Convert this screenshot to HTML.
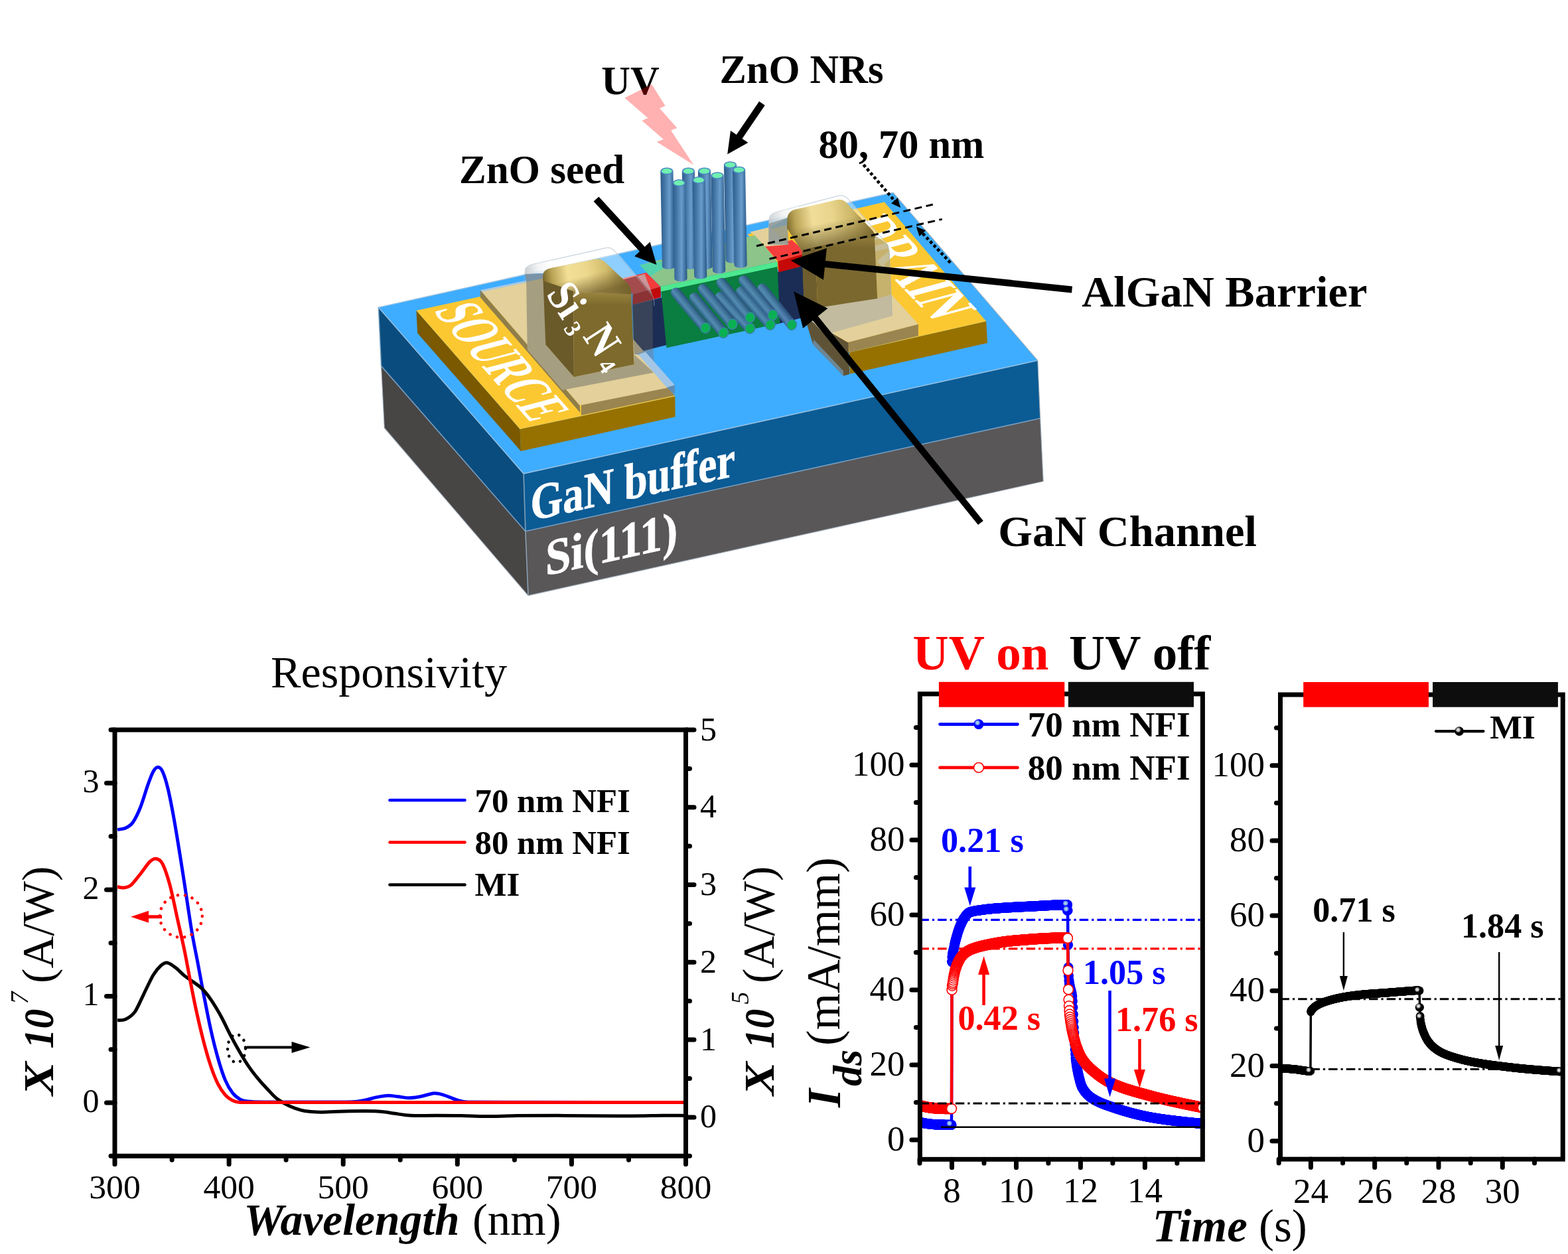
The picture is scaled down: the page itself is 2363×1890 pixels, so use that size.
<!DOCTYPE html>
<html lang="en"><head><meta charset="utf-8"><title>ZnO NR gated AlGaN/GaN nano-fin UV photodetector</title>
<style>
html,body{margin:0;padding:0;background:#fff;}
body{width:2363px;height:1890px;overflow:hidden;}
svg{display:block;font-family:"Liberation Serif","Times New Roman",serif;}
</style></head>
<body>
<svg width="2363" height="1890" viewBox="0 0 2363 1890">
<rect width="2363" height="1890" fill="#fff"/>
<g id="device">
<polygon points="574.5,551.6 791.9,800.7 796,897.6 579.3,645" fill="#484545" />
<polygon points="791.9,800.7 1567.6,630.5 1572.2,725.5 796,897.6" fill="#595758" />
<polygon points="570.3,463.2 789.1,713.9 791.9,800.7 574.5,551.6" fill="#0a4c7d" />
<polygon points="789.1,713.9 1563.8,543.3 1567.6,630.5 791.9,800.7" fill="#0b5b95" />
<polygon points="570.3,463.2 1345.8,290.2 1563.8,543.3 789.1,713.9" fill="#3eadff" />
<polyline points="1345.8,290.2 570.3,463.2 789.1,713.9 1563.8,543.3" fill="none" stroke="#9ec3e0" stroke-width="1.6" stroke-linejoin="round" stroke-opacity="0.85"/>
<polyline points="570.3,463.2 574.5,551.6 791.9,800.7 1567.6,630.5" fill="none" stroke="#7fa6c8" stroke-width="1.6" stroke-linejoin="round" stroke-opacity="0.85"/>
<polyline points="789.1,713.9 791.9,800.7 796,897.6" fill="none" stroke="#8fa9c0" stroke-width="1.6" stroke-linejoin="round" stroke-opacity="0.85"/>
<polyline points="1345.8,290.2 1563.8,543.3 1567.6,630.5 1572.2,725.5 796,897.6 579.3,645 574.5,551.6" fill="none" stroke="#9aa8b4" stroke-width="1.2" stroke-linejoin="round" stroke-opacity="0.85"/>
<polygon points="627.4,468 783.6,646.7 785,680.1 629.1,502.1" fill="#7a5900" />
<polygon points="783.6,646.7 1017.3,597.3 1017.6,628.2 785,680.1" fill="#967100" />
<polygon points="627.4,468 860,417.5 1017.3,597.3 783.6,646.7" fill="#fbc832" />
<polygon points="1279.9,531 1486.2,484.3 1488,516.9 1280.8,563.6" fill="#967100" />
<polygon points="1332.8,304.4 1486.2,484.3 1279.9,531 1126.5,353.1" fill="#fbc832" />
<text transform="matrix(0.4290,0.4476,-0.9844,0.2673,1268,338)" font-size="100" fill="#fff" font-weight="bold" >DRAIN</text>
<polygon points="953.3,459.3 1003.9,446.9 1007.7,519.3 955.7,532.3" fill="#1b2d55" />
<polygon points="953.8,443.5 995.6,432 996,448.2 953.3,459.3" fill="#c20a0a" />
<polygon points="930.6,421.3 974.2,410.7 995.6,432 953.8,443.5" fill="#f23c3c" />
<polygon points="1169.7,410.5 1209.7,400.8 1212.9,478.1 1169.7,488.7" fill="#1b2d55" />
<polygon points="1172.3,393.4 1209.4,382.9 1209.7,400.8 1173.2,410.5" fill="#c60808" />
<polygon points="1152.9,371.4 1193.5,361.7 1209.4,375.8 1209.4,382.9 1172.3,393.4" fill="#f53d3d" />
<polygon points="995.6,432 1171.4,394.4 1175.2,487.3 1004.5,524.3" fill="#0a7d40" />
<polygon points="964,399.5 1139.4,354.1 1171.4,394.4 995.6,432" fill="#8cc48a" />
<polygon points="964,399.5 996.5,394 1001.2,403.2 979.8,416.2" fill="#3fd8b8" fill-opacity="0.75"/>
<polygon points="995.6,432 1171.4,394.4 1171.7,401.9 995.9,439.5" fill="#4de890" />
<linearGradient id="hr0" gradientUnits="userSpaceOnUse" x1="1142.7" y1="439.7" x2="1154.8" y2="429.9"><stop offset="0" stop-color="#2f5f8c"/><stop offset="0.35" stop-color="#5a8cbb"/><stop offset="0.6" stop-color="#4a7aa8"/><stop offset="1" stop-color="#28507a"/></linearGradient>
<path d="M1142.7,439.7 L1187.2,494.5 A7.8,7.8 0 0 0 1199.3,484.6 L1154.8,429.9 A7.8,7.8 0 0 0 1142.7,439.7 Z" fill="url(#hr0)" fill-opacity="0.92"/>
<ellipse cx="1193.3" cy="489.6" rx="7.2" ry="7.8" fill="#0bb054" stroke="#3f7fae" stroke-width="1.2" transform="rotate(20 1193.3 489.6)"/>
<linearGradient id="hr1" gradientUnits="userSpaceOnUse" x1="1111.3" y1="444.6" x2="1123.1" y2="434.3"><stop offset="0" stop-color="#2f5f8c"/><stop offset="0.35" stop-color="#5a8cbb"/><stop offset="0.6" stop-color="#4a7aa8"/><stop offset="1" stop-color="#28507a"/></linearGradient>
<path d="M1111.3,444.6 L1154.9,494.7 A7.8,7.8 0 0 0 1166.7,484.4 L1123.1,434.3 A7.8,7.8 0 0 0 1111.3,444.6 Z" fill="url(#hr1)" fill-opacity="0.92"/>
<ellipse cx="1160.8" cy="489.6" rx="7.2" ry="7.8" fill="#0bb054" stroke="#3f7fae" stroke-width="1.2" transform="rotate(20 1160.8 489.6)"/>
<linearGradient id="hr2" gradientUnits="userSpaceOnUse" x1="1114.9" y1="427.8" x2="1126.9" y2="417.7"><stop offset="0" stop-color="#2f5f8c"/><stop offset="0.35" stop-color="#5a8cbb"/><stop offset="0.6" stop-color="#4a7aa8"/><stop offset="1" stop-color="#28507a"/></linearGradient>
<path d="M1114.9,427.8 L1158.5,479.7 A7.8,7.8 0 0 0 1170.5,469.7 L1126.9,417.7 A7.8,7.8 0 0 0 1114.9,427.8 Z" fill="url(#hr2)" fill-opacity="0.92"/>
<ellipse cx="1164.5" cy="474.7" rx="7.2" ry="7.8" fill="#0bb054" stroke="#3f7fae" stroke-width="1.2" transform="rotate(20 1164.5 474.7)"/>
<linearGradient id="hr3" gradientUnits="userSpaceOnUse" x1="1079.9" y1="452.2" x2="1091.3" y2="441.6"><stop offset="0" stop-color="#2f5f8c"/><stop offset="0.35" stop-color="#5a8cbb"/><stop offset="0.6" stop-color="#4a7aa8"/><stop offset="1" stop-color="#28507a"/></linearGradient>
<path d="M1079.9,452.2 L1124.4,500.4 A7.8,7.8 0 0 0 1135.9,489.8 L1091.3,441.6 A7.8,7.8 0 0 0 1079.9,452.2 Z" fill="url(#hr3)" fill-opacity="0.92"/>
<ellipse cx="1130.2" cy="495.1" rx="7.2" ry="7.8" fill="#0bb054" stroke="#3f7fae" stroke-width="1.2" transform="rotate(20 1130.2 495.1)"/>
<linearGradient id="hr4" gradientUnits="userSpaceOnUse" x1="1081.4" y1="431.4" x2="1093.5" y2="421.5"><stop offset="0" stop-color="#2f5f8c"/><stop offset="0.35" stop-color="#5a8cbb"/><stop offset="0.6" stop-color="#4a7aa8"/><stop offset="1" stop-color="#28507a"/></linearGradient>
<path d="M1081.4,431.4 L1124.1,483.4 A7.8,7.8 0 0 0 1136.2,473.5 L1093.5,421.5 A7.8,7.8 0 0 0 1081.4,431.4 Z" fill="url(#hr4)" fill-opacity="0.92"/>
<ellipse cx="1130.2" cy="478.4" rx="7.2" ry="7.8" fill="#0bb054" stroke="#3f7fae" stroke-width="1.2" transform="rotate(20 1130.2 478.4)"/>
<linearGradient id="hr5" gradientUnits="userSpaceOnUse" x1="1053.6" y1="440.7" x2="1065.6" y2="430.7"><stop offset="0" stop-color="#2f5f8c"/><stop offset="0.35" stop-color="#5a8cbb"/><stop offset="0.6" stop-color="#4a7aa8"/><stop offset="1" stop-color="#28507a"/></linearGradient>
<path d="M1053.6,440.7 L1097.8,493.6 A7.8,7.8 0 0 0 1109.8,483.6 L1065.6,430.7 A7.8,7.8 0 0 0 1053.6,440.7 Z" fill="url(#hr5)" fill-opacity="0.92"/>
<ellipse cx="1103.8" cy="488.6" rx="7.2" ry="7.8" fill="#0bb054" stroke="#3f7fae" stroke-width="1.2" transform="rotate(20 1103.8 488.6)"/>
<linearGradient id="hr6" gradientUnits="userSpaceOnUse" x1="1040.6" y1="453.7" x2="1052.7" y2="443.8"><stop offset="0" stop-color="#2f5f8c"/><stop offset="0.35" stop-color="#5a8cbb"/><stop offset="0.6" stop-color="#4a7aa8"/><stop offset="1" stop-color="#28507a"/></linearGradient>
<path d="M1040.6,453.7 L1084.2,506.6 A7.8,7.8 0 0 0 1096.3,496.7 L1052.7,443.8 A7.8,7.8 0 0 0 1040.6,453.7 Z" fill="url(#hr6)" fill-opacity="0.92"/>
<ellipse cx="1090.3" cy="501.6" rx="7.2" ry="7.8" fill="#0bb054" stroke="#3f7fae" stroke-width="1.2" transform="rotate(20 1090.3 501.6)"/>
<linearGradient id="hr7" gradientUnits="userSpaceOnUse" x1="1012.8" y1="446.3" x2="1024.8" y2="436.3"><stop offset="0" stop-color="#2f5f8c"/><stop offset="0.35" stop-color="#5a8cbb"/><stop offset="0.6" stop-color="#4a7aa8"/><stop offset="1" stop-color="#28507a"/></linearGradient>
<path d="M1012.8,446.3 L1057,499.2 A7.8,7.8 0 0 0 1069,489.2 L1024.8,436.3 A7.8,7.8 0 0 0 1012.8,446.3 Z" fill="url(#hr7)" fill-opacity="0.92"/>
<ellipse cx="1063" cy="494.2" rx="7.2" ry="7.8" fill="#0bb054" stroke="#3f7fae" stroke-width="1.2" transform="rotate(20 1063 494.2)"/>
<linearGradient id="vr" x1="0" y1="0" x2="1" y2="0"><stop offset="0" stop-color="#2d5c8a"/><stop offset="0.3" stop-color="#4678a8"/><stop offset="0.62" stop-color="#6a9ccc"/><stop offset="0.85" stop-color="#3f72a2"/><stop offset="1" stop-color="#2a5682"/></linearGradient>
<path d="M1090.9,248.6 L1093.5,392.1 A9.6,4.3 0 0 0 1112.7,392.1 L1110.1,248.6 Z" fill="url(#vr)"/>
<ellipse cx="1100.5" cy="248.6" rx="9.6" ry="5.4" fill="#4a88bf"/>
<ellipse cx="1100.5" cy="248.6" rx="7.8" ry="3.9" fill="#70f0b0"/>
<path d="M995.3,257.9 L997.9,401.4 A9.6,4.3 0 0 0 1017.1,401.4 L1014.5,257.9 Z" fill="url(#vr)"/>
<ellipse cx="1004.9" cy="257.9" rx="9.6" ry="5.4" fill="#4a88bf"/>
<ellipse cx="1004.9" cy="257.9" rx="7.8" ry="3.9" fill="#70f0b0"/>
<path d="M1027.8,257.9 L1030.4,401.4 A9.6,4.3 0 0 0 1049.6,401.4 L1047,257.9 Z" fill="url(#vr)"/>
<ellipse cx="1037.4" cy="257.9" rx="9.6" ry="5.4" fill="#4a88bf"/>
<ellipse cx="1037.4" cy="257.9" rx="7.8" ry="3.9" fill="#70f0b0"/>
<path d="M1051.9,257.9 L1054.5,401.4 A9.6,4.3 0 0 0 1073.7,401.4 L1071.1,257.9 Z" fill="url(#vr)"/>
<ellipse cx="1061.5" cy="257.9" rx="9.6" ry="5.4" fill="#4a88bf"/>
<ellipse cx="1061.5" cy="257.9" rx="7.8" ry="3.9" fill="#70f0b0"/>
<path d="M1103.9,256.1 L1106.5,399.5 A9.6,4.3 0 0 0 1125.7,399.5 L1123.1,256.1 Z" fill="url(#vr)"/>
<ellipse cx="1113.5" cy="256.1" rx="9.6" ry="5.4" fill="#4a88bf"/>
<ellipse cx="1113.5" cy="256.1" rx="7.8" ry="3.9" fill="#70f0b0"/>
<path d="M1071.4,264.6 L1074,407.9 A9.6,4.3 0 0 0 1093.2,407.9 L1090.6,264.6 Z" fill="url(#vr)"/>
<ellipse cx="1081" cy="264.6" rx="9.6" ry="5.4" fill="#4a88bf"/>
<ellipse cx="1081" cy="264.6" rx="7.8" ry="3.9" fill="#70f0b0"/>
<path d="M1043.5,271.5 L1046.1,416.2 A9.6,4.3 0 0 0 1065.3,416.2 L1062.7,271.5 Z" fill="url(#vr)"/>
<ellipse cx="1053.1" cy="271.5" rx="9.6" ry="5.4" fill="#4a88bf"/>
<ellipse cx="1053.1" cy="271.5" rx="7.8" ry="3.9" fill="#70f0b0"/>
<path d="M1013.8,275.7 L1016.4,420 A9.6,4.3 0 0 0 1035.6,420 L1033,275.7 Z" fill="url(#vr)"/>
<ellipse cx="1023.4" cy="275.7" rx="9.6" ry="5.4" fill="#4a88bf"/>
<ellipse cx="1023.4" cy="275.7" rx="7.8" ry="3.9" fill="#70f0b0"/>
<linearGradient id="gtop1" gradientUnits="userSpaceOnUse" x1="819.9" y1="426.3" x2="950.9" y2="407.3"><stop offset="0" stop-color="#7d692b"/><stop offset="0.1" stop-color="#b8a254"/><stop offset="0.28" stop-color="#f3e097"/><stop offset="0.5" stop-color="#ecd88d"/><stop offset="0.72" stop-color="#d2bc6c"/><stop offset="0.9" stop-color="#a38d44"/><stop offset="1" stop-color="#7f6b2d"/></linearGradient>
<linearGradient id="gfr1" gradientUnits="userSpaceOnUse" x1="905.1" y1="435.7" x2="905.1" y2="557.2"><stop offset="0" stop-color="#a08a44"/><stop offset="0.2" stop-color="#7d6a2c"/><stop offset="1" stop-color="#7d6a2c"/></linearGradient>
<linearGradient id="gsh1" gradientUnits="userSpaceOnUse" x1="793.1" y1="407.3" x2="829.4" y2="397.9"><stop offset="0" stop-color="#c9ced2"/><stop offset="0.5" stop-color="#f2f3f4"/><stop offset="1" stop-color="#ffffff"/></linearGradient>
<polygon points="723.7,437.3 866.5,407.3 869.6,412.1 729.2,442.4" fill="#a7c8e4" />
<polygon points="875.8,610.4 1004.8,582.1 1016.8,596 875.8,625.9" fill="#9a8550" />
<polygon points="726,439.7 866.5,410.5 1016.3,582.5 873.6,610.9" fill="#e3d09a" />
<polygon points="723.7,437.3 873.6,610.9 874.3,621.9 724,448.4" fill="#8f7e49" />
<polygon points="793.1,422.3 826.2,415.2 822.3,519.4 864.9,568.3 955.6,549.3 955.6,534.3 985.3,561.6 847.5,588 794.7,527.2" fill="#a69e80" />
<polygon points="931.9,423.1 971.4,412.9 983.2,443.6 984,529.6 955.6,534.3 950.9,448.4" fill="#55595e" fill-opacity="0.5"/>
<polygon points="955.6,533.6 984.3,526.1 985.3,549.3 972.8,530.6 962.1,534.8" fill="#7f97ab" />
<polygon points="972.8,530.6 984.3,526.1 985.6,545.4" fill="#5b94c8" />
<polygon points="962.1,534.8 972.8,530.6 1016.8,580.3 1004.8,583.9" fill="#a3c6e6" />
<polygon points="1004.8,583.9 1016.8,580.3 1016.8,594.3" fill="#5f8cb4" />
<polygon points="802.6,399.8 918.5,373.6 927.2,377 983.2,443.6 971.4,412.9 933.5,423.1 903.5,390 826.2,405" fill="#ffffff" fill-opacity="0.42"/>
<path d="M791,426.3L791.1,412Q791.2,401 801.9,398.6L912.1,373.8Q920.9,371.8 926.7,378.7L980.4,442.2Q985.6,448.4 985.7,454.7L985.9,461" fill="none" stroke="#9fb0bd" stroke-width="1.2" stroke-opacity="0.55"/>
<path d="M791,413.6L791.1,407.5Q791.2,401.3 801.9,399L832.5,392.3L826.2,405L818.3,412.1Z" fill="url(#gsh1)" fill-opacity="0.9"/>
<polygon points="791,413.3 818.3,412.1 819.9,419.2 793.1,424.7" fill="#7b93a6" />
<polygon points="818.3,416.8 864.1,435.7 864.9,568.3 822.3,519.4" fill="#6b5a29" />
<polygon points="864.1,435.7 950.9,438.9 955.6,549.3 864.9,568.3" fill="url(#gfr1)" />
<path d="M818,423.1L818.3,414.8Q818.6,406.5 830.4,404.1L896.3,390.7Q905.1,388.9 911.7,395.1L944,425.6Q950.6,431.8 950.9,437.7L951.2,443.6L871.7,440Q865.7,439.7 860,437.6L842,431Z" fill="url(#gtop1)"/>
<linearGradient id="gsd1" gradientUnits="userSpaceOnUse" x1="881.4" y1="391.6" x2="894.1" y2="442"><stop offset="0" stop-color="#6b5a29" stop-opacity="0"/><stop offset="0.45" stop-color="#6b5a29" stop-opacity="0"/><stop offset="1" stop-color="#6b5a29" stop-opacity="0.75"/></linearGradient>
<path d="M818,423.1L818.3,414.8Q818.6,406.5 830.4,404.1L896.3,390.7Q905.1,388.9 911.7,395.1L944,425.6Q950.6,431.8 950.9,437.7L951.2,443.6L871.7,440Q865.7,439.7 860,437.6L842,431Z" fill="url(#gsd1)"/>
<linearGradient id="gtop2" gradientUnits="userSpaceOnUse" x1="1186.4" y1="347.6" x2="1318.7" y2="328.2"><stop offset="0" stop-color="#7d692b"/><stop offset="0.1" stop-color="#b8a254"/><stop offset="0.3" stop-color="#f0dd98"/><stop offset="0.52" stop-color="#e9d58c"/><stop offset="0.75" stop-color="#cdb768"/><stop offset="0.92" stop-color="#a18b43"/><stop offset="1" stop-color="#7f6b2d"/></linearGradient>
<linearGradient id="gfr2" gradientUnits="userSpaceOnUse" x1="1271.1" y1="358.2" x2="1271.1" y2="456.9"><stop offset="0" stop-color="#8f7a38"/><stop offset="0.16" stop-color="#7a682f"/><stop offset="1" stop-color="#7a682f"/></linearGradient>
<linearGradient id="gsh2" gradientUnits="userSpaceOnUse" x1="1159.1" y1="328.2" x2="1200.5" y2="315.8"><stop offset="0" stop-color="#c9ced2"/><stop offset="0.5" stop-color="#f2f3f4"/><stop offset="1" stop-color="#ffffff"/></linearGradient>
<polygon points="1130,349.7 1160,342.3 1188.2,368.7 1152.9,371.4 1137.1,354.6" fill="#e3d09a" />
<polygon points="1226.1,486.5 1343.4,443.7 1383.9,488.7 1278.1,516" fill="#e3d09a" />
<polygon points="1278.1,516 1383.9,488.7 1383.9,506.3 1279.9,531" fill="#9a8550" />
<polygon points="1212.5,477.2 1226.1,486.5 1278.5,516.5 1280.2,564.1 1271.1,566.6 1225.2,519" fill="#5f5337" />
<polygon points="1225.2,519 1271.1,566.6 1271.1,559.2 1226.1,511.6" fill="#6f93ad" fill-opacity="0.8"/>
<polygon points="1213.8,478.1 1232.3,463.1 1322.2,449 1343.4,443.7 1344.2,476.3 1242.9,504.5 1226.1,486.5" fill="#c3bb9f" />
<polygon points="1316.9,352.9 1338.1,368.7 1340.7,382.9 1344.2,476.3 1343.4,443.7 1322.2,449.9" fill="#b9ac7c" fill-opacity="0.8"/>
<polygon points="1165.3,321.1 1269.3,293.8 1278.1,298.2 1338.1,368.7 1316.9,352.9 1267.5,300.3 1200.5,314.1 1186.4,328.2" fill="#ffffff" fill-opacity="0.42"/>
<path d="M1158.6,368.7L1158.7,333.5Q1158.7,322.5 1169.4,319.8L1263.2,295.2Q1272,292.9 1277.8,299.7L1334.6,365.3Q1339.8,371.4 1340.2,379.4L1344.2,476.3" fill="none" stroke="#9fb0bd" stroke-width="1.2" stroke-opacity="0.55"/>
<path d="M1158.6,344.1L1158.7,333.3Q1158.7,322.5 1169.4,319.8L1204.1,310.9L1200.5,315L1186.4,328.2Z" fill="url(#gsh2)" fill-opacity="0.9"/>
<polygon points="1158.6,337 1186.4,328.2 1188.2,368.7 1158.6,368.7" fill="#8f9a98" fill-opacity="0.85"/>
<polygon points="1208.5,376.7 1228.7,367.9 1232.3,464 1212.2,478.4" fill="#6e5e2e" />
<polygon points="1228.7,367.9 1317.8,354.6 1322.2,449.9 1232.3,464" fill="url(#gfr2)" />
<path d="M1186.1,344.1L1186.4,330.5Q1186.8,318.5 1198.5,315.7L1260.5,301.2Q1269.3,299.1 1275.5,305.6L1312.2,344.6Q1318.3,351.1 1318.5,354.6L1318.7,358.2L1236.5,369.7Q1230.5,370.5 1224.9,372.5L1208.5,378.4Z" fill="url(#gtop2)"/>
<linearGradient id="gsd2" gradientUnits="userSpaceOnUse" x1="1244.6" y1="305.3" x2="1257" y2="368.7"><stop offset="0" stop-color="#6e5e2e" stop-opacity="0"/><stop offset="0.45" stop-color="#6e5e2e" stop-opacity="0"/><stop offset="1" stop-color="#6e5e2e" stop-opacity="0.75"/></linearGradient>
<path d="M1186.1,344.1L1186.4,330.5Q1186.8,318.5 1198.5,315.7L1260.5,301.2Q1269.3,299.1 1275.5,305.6L1312.2,344.6Q1318.3,351.1 1318.5,354.6L1318.7,358.2L1236.5,369.7Q1230.5,370.5 1224.9,372.5L1208.5,378.4Z" fill="url(#gsd2)"/>
<text transform="matrix(0.4442,0.5082,-1.1602,0.3066,652,468)" font-size="80" fill="#fff" font-weight="bold" >SOURCE</text>
<text transform="matrix(0.4629,0.7129,-0.8387,0.5446,822,443.5)" font-size="68" fill="#fff" font-weight="bold" >Si</text>
<text transform="matrix(0.5174,0.7967,-0.8387,0.5446,848.5,495)" font-size="36" fill="#fff" font-weight="bold" >3</text>
<text transform="matrix(0.4629,0.7129,-0.8387,0.5446,877.5,507)" font-size="68" fill="#fff" font-weight="bold" >N</text>
<text transform="matrix(0.5174,0.7967,-0.8387,0.5446,900,551)" font-size="36" fill="#fff" font-weight="bold" >4</text>
<text transform="translate(799.5,785) skewY(-12.4) scale(0.815,1)" font-size="77" font-weight="bold" fill="#fff" stroke="#fff" stroke-width="0.8">GaN buffer</text>
<text transform="translate(822,867.5) skewY(-12.4) scale(0.895,1)" font-size="77" font-weight="bold" fill="#fff" stroke="#fff" stroke-width="0.8">Si(111)</text>
<line x1="1140" y1="370.8" x2="1405.8" y2="308.2" stroke="#000" stroke-width="3" stroke-dasharray="11 6.5"/>
<line x1="1159.5" y1="390.3" x2="1419.7" y2="330.4" stroke="#000" stroke-width="3" stroke-dasharray="11 6.5"/>
<line x1="1301.4" y1="248.3" x2="1349.2" y2="303.8" stroke="#000" stroke-width="4.6" stroke-dasharray="4.4 3.6"/>
<polygon points="1346.9,301.9 1347.6,302.6 1343,306.6 1357.1,312.9 1352.9,298.1 1348.3,302 1347.7,301.2" fill="#000" />
<line x1="1432.2" y1="395.8" x2="1389" y2="350.3" stroke="#000" stroke-width="4.6" stroke-dasharray="4.4 3.6"/>
<polygon points="1391.4,352.1 1390.7,351.4 1395.1,347.3 1380.7,341.6 1385.6,356.2 1390,352.1 1390.7,352.8" fill="#000" />
<polygon points="1144.1,152.8 1109.9,203.1 1101,197 1096.2,232.5 1127.4,215 1118.5,209 1152.7,158.8" fill="#000" />
<polygon points="894.6,303.6 964,379 956.1,386.3 989.5,399 979.6,364.6 971.7,371.9 902.4,296.4" fill="#000" />
<polygon points="1616,431.4 1243.9,393 1245.9,374.1 1191.7,392.6 1241,421.8 1242.9,402.9 1615,441.4" fill="#000" />
<polygon points="1481.8,784.9 1232.7,476.6 1247.5,464.7 1196.1,439.3 1210.1,494.8 1224.9,482.9 1474,791.1" fill="#000" />
<text x="906.3" y="141.9" font-size="60.5" text-anchor="start" font-weight="bold" font-style="normal" fill="#000" >UV</text>
<text x="1084.4" y="125.2" font-size="60.5" text-anchor="start" font-weight="bold" font-style="normal" fill="#000" >ZnO NRs</text>
<text x="692" y="275.5" font-size="61" text-anchor="start" font-weight="bold" font-style="normal" fill="#000" >ZnO seed</text>
<text x="1233.6" y="238.2" font-size="60.3" text-anchor="start" font-weight="bold" font-style="normal" fill="#000" >80, 70 nm</text>
<text x="1630.2" y="461.6" font-size="66.5" text-anchor="start" font-weight="bold" font-style="normal" fill="#000" >AlGaN Barrier</text>
<text x="1504.2" y="823" font-size="66.5" text-anchor="start" font-weight="bold" font-style="normal" fill="#000" >GaN Channel</text>
<polygon points="982.2,127.2 1002.6,159.5 994.1,163.2 1020.4,192.9 1011.1,196.6 1045.3,248.5 989.6,213.7 1000,209.9 967.3,181.7 976.6,178 941.4,147.6" fill="#ff0000" fill-opacity="0.31"/>
</g>
<g id="chart1">
<path d="M177,1250.4C179,1250 185.3,1250 189.2,1248.1C193.1,1246.2 197.1,1243.9 200.4,1239.2C203.7,1234.5 207.8,1226.2 211.5,1217C215.2,1207.8 219.6,1192.1 222.6,1183.6C225.6,1175.1 229.1,1166 231,1162.7C232.9,1159.4 235.7,1156.3 238,1156.3C240.3,1156.3 243.3,1159.3 244.9,1162.7C246.5,1166.1 250.6,1178.3 253.2,1189.1C255.8,1199.9 258.8,1215.6 261.6,1230.9C264.4,1246.2 267.2,1263.8 270,1281C272.8,1298.2 275.1,1313 278.3,1333.9C281.5,1354.8 286.4,1388.6 289.4,1406.2C292.4,1423.8 295,1435.3 297.8,1450C300.6,1464.7 302.9,1477.8 306.1,1494.5C309.4,1511.2 313.6,1533.5 317.3,1550.2C321,1566.9 324.7,1581.7 328.4,1594.7C332.1,1607.7 336,1619.8 339.5,1628.1C343,1636.4 347.2,1643 350.7,1647.6C354.2,1652.2 358.1,1654.7 361.8,1656.8C365.5,1658.9 368.3,1659.5 372.9,1660C377.5,1660.5 389.2,1660.9 400,1661C410.8,1661.1 512.8,1661 520,1661C527.2,1661 532.5,1660.8 538,1660.2C543.5,1659.6 548,1658.6 553,1657.5C558,1656.4 562.7,1654.6 568,1653.6C573.3,1652.5 579.7,1651.3 585,1651.2C590.3,1651.1 594.7,1652.2 600,1652.8C605.3,1653.4 611.7,1654.8 617,1654.8C622.3,1654.8 627.3,1653.8 632,1653C636.7,1652.2 641.1,1650.7 645,1649.8C648.9,1648.9 651.5,1647.8 655.2,1647.8C658.9,1647.8 662.9,1648.7 667,1649.8C671.1,1650.9 675.8,1653.1 680,1654.6C684.2,1656.1 687.8,1657.9 692,1659C696.2,1660.1 699.7,1660.9 705,1661C710.3,1661.1 762,1661.2 800,1661.3C838,1661.4 994.2,1661.5 1033,1661.5" fill="none" stroke="#0000ff" stroke-width="5" stroke-linejoin="round"/>
<path d="M177,1537.7C179,1537.5 184.8,1538.4 189.2,1536.3C193.6,1534.2 199,1530.9 203.2,1525.1C207.4,1519.3 212.5,1506.6 217.1,1497.3C221.7,1488 227.3,1475.6 231,1469.5C234.7,1463.4 238.9,1458.5 242.1,1455.6C245.3,1452.7 248.2,1450.5 251.9,1451C255.6,1451.5 260,1455 264.4,1458.3C268.8,1461.6 273.7,1467.2 278.3,1470.9C282.9,1474.6 287.6,1477.1 292.2,1480.6C296.8,1484.1 301.5,1486.8 306.1,1491.7C310.7,1496.6 315.4,1502.8 320,1509.8C324.6,1516.8 329.4,1524.9 334,1533.5C338.6,1542.1 343.3,1552.5 347.9,1561.3C352.5,1570.1 357.2,1578.5 361.8,1586.4C366.4,1594.3 371.1,1601.9 375.7,1608.6C380.3,1615.3 385,1621.1 389.6,1626.7C394.2,1632.3 398.9,1637.2 403.5,1642C408.1,1646.8 411.7,1651.6 417.1,1655.7C422.5,1659.8 429.5,1663.9 435.7,1666.8C441.9,1669.7 448.6,1671.8 454.2,1673.3C459.8,1674.8 464.1,1675 469,1675.5C473.9,1676 477.9,1676.3 483.9,1676.3C489.9,1676.3 499.5,1675.6 509.9,1675.3C520.3,1675 539.6,1674.5 547,1674.4C554.4,1674.3 559.9,1674.5 565.5,1674.8C571.1,1675.1 575.4,1675.5 580.4,1676.1C585.4,1676.7 590.3,1677.6 595.2,1678.3C600.1,1679 605,1680 610,1680.5C615,1681 618.9,1681.5 624.9,1681.6C630.9,1681.7 646.5,1681.3 658.3,1681.3C670,1681.3 683,1681.4 695.4,1681.6C707.8,1681.8 718.4,1682.6 732.5,1682.6C746.6,1682.6 761,1681.8 780,1681.6C799,1681.4 825,1681.3 850,1681.4C875,1681.5 905,1682 930,1682C955,1682 986.8,1681.3 1000,1681.2C1013.2,1681.1 1027.5,1681.4 1033,1681.4" fill="none" stroke="#000" stroke-width="5" stroke-linejoin="round"/>
<path d="M177,1336.6C178.6,1336.8 183.1,1338.5 186.5,1338C189.9,1337.5 194,1336.9 197.6,1333.9C201.2,1330.9 206.9,1323 211.5,1317.2C216.1,1311.4 222.3,1302.1 225.4,1299.1C228.5,1296.1 231.9,1293.8 235.2,1294.3C238.4,1294.8 242.6,1297.5 244.9,1301.9C247.2,1306.3 252.4,1320.8 256,1333.9C259.6,1347 263.5,1367.3 267.2,1384C270.9,1400.7 275.1,1418.4 278.3,1434C281.5,1449.6 283.8,1463.5 286.6,1477.8C289.4,1492.1 291.8,1504.8 295,1519.6C298.2,1534.4 302.4,1552.5 306.1,1566.9C309.8,1581.3 313.6,1594.7 317.3,1605.8C321,1616.9 324.8,1626.5 328.4,1633.7C332,1640.9 335.8,1646.2 339.5,1650.4C343.2,1654.6 347,1656.9 350.7,1658.7C354.4,1660.5 357.2,1661.2 361.8,1661.5C366.4,1661.8 384.7,1661.5 400,1661.5C415.3,1661.5 927.5,1661.5 1033,1661.5" fill="none" stroke="#ff0000" stroke-width="5" stroke-linejoin="round"/>
<rect x="173" y="1100" width="860.5" height="642.3" fill="none" stroke="#000" stroke-width="7"/>
<path d="M173,1742.3h-6M173,1662h-12.5M173,1581.7h-6M173,1501.4h-12.5M173,1421.2h-6M173,1340.9h-12.5M173,1260.6h-6M173,1180.3h-12.5M173,1100h-6M1033.5,1742.3h6M1033.5,1683.9h12.5M1033.5,1625.5h6M1033.5,1567.1h12.5M1033.5,1508.7h6M1033.5,1450.3h12.5M1033.5,1392h6M1033.5,1333.6h12.5M1033.5,1275.2h6M1033.5,1216.8h12.5M1033.5,1158.4h6M1033.5,1100h12.5M173,1742.3v12.5M259.1,1742.3v6M345.1,1742.3v12.5M431.1,1742.3v6M517.2,1742.3v12.5M603.2,1742.3v6M689.3,1742.3v12.5M775.4,1742.3v6M861.4,1742.3v12.5M947.5,1742.3v6M1033.5,1742.3v12.5" stroke="#000" stroke-width="7" stroke-linecap="round" fill="none"/>
<text x="149.5" y="1676" font-size="50" text-anchor="end" font-weight="normal" font-style="normal" fill="#000" >0</text>
<text x="149.5" y="1515.4" font-size="50" text-anchor="end" font-weight="normal" font-style="normal" fill="#000" >1</text>
<text x="149.5" y="1354.9" font-size="50" text-anchor="end" font-weight="normal" font-style="normal" fill="#000" >2</text>
<text x="149.5" y="1194.3" font-size="50" text-anchor="end" font-weight="normal" font-style="normal" fill="#000" >3</text>
<text x="1055" y="1699.4" font-size="50" text-anchor="start" font-weight="normal" font-style="normal" fill="#000" >0</text>
<text x="1055" y="1582.6" font-size="50" text-anchor="start" font-weight="normal" font-style="normal" fill="#000" >1</text>
<text x="1055" y="1465.8" font-size="50" text-anchor="start" font-weight="normal" font-style="normal" fill="#000" >2</text>
<text x="1055" y="1349.1" font-size="50" text-anchor="start" font-weight="normal" font-style="normal" fill="#000" >3</text>
<text x="1055" y="1232.3" font-size="50" text-anchor="start" font-weight="normal" font-style="normal" fill="#000" >4</text>
<text x="1055" y="1115.5" font-size="50" text-anchor="start" font-weight="normal" font-style="normal" fill="#000" >5</text>
<text x="173" y="1805.5" font-size="51.6" text-anchor="middle" font-weight="normal" font-style="normal" fill="#000" >300</text>
<text x="345.1" y="1805.5" font-size="51.6" text-anchor="middle" font-weight="normal" font-style="normal" fill="#000" >400</text>
<text x="517.2" y="1805.5" font-size="51.6" text-anchor="middle" font-weight="normal" font-style="normal" fill="#000" >500</text>
<text x="689.3" y="1805.5" font-size="51.6" text-anchor="middle" font-weight="normal" font-style="normal" fill="#000" >600</text>
<text x="861.4" y="1805.5" font-size="51.6" text-anchor="middle" font-weight="normal" font-style="normal" fill="#000" >700</text>
<text x="1033.5" y="1805.5" font-size="51.6" text-anchor="middle" font-weight="normal" font-style="normal" fill="#000" >800</text>
<text x="586" y="1036" font-size="68.2" text-anchor="middle" font-weight="normal" font-style="normal" fill="#000" >Responsivity</text>
<text x="367.5" y="1861" font-size="67.5" xml:space="preserve"><tspan font-weight="bold" font-style="italic">Wavelength</tspan><tspan x="712" font-size="68.7">(nm)</tspan></text>
<text transform="translate(80,1651) rotate(-90) scale(1.190,1)" font-size="64" text-anchor="start" font-weight="bold" font-style="italic" fill="#000" xml:space="preserve">X </text>
<text transform="translate(80,1580.5) rotate(-90) scale(0.935,1)" font-size="64" text-anchor="start" font-weight="bold" font-style="italic" fill="#000" >10</text>
<text transform="translate(42,1513.5) rotate(-90)" font-size="38" text-anchor="start" font-weight="normal" font-style="italic" fill="#000" >7</text>
<text transform="translate(80,1482) rotate(-90)" font-size="67.6" text-anchor="start" font-weight="normal" font-style="normal" fill="#000" >(A/W)</text>
<text transform="translate(1166,1651) rotate(-90) scale(1.190,1)" font-size="64" text-anchor="start" font-weight="bold" font-style="italic" fill="#000" xml:space="preserve">X </text>
<text transform="translate(1166,1580.5) rotate(-90) scale(0.935,1)" font-size="64" text-anchor="start" font-weight="bold" font-style="italic" fill="#000" >10</text>
<text transform="translate(1128,1513.5) rotate(-90)" font-size="38" text-anchor="start" font-weight="normal" font-style="italic" fill="#000" >5</text>
<text transform="translate(1166,1482) rotate(-90)" font-size="67.6" text-anchor="start" font-weight="normal" font-style="normal" fill="#000" >(A/W)</text>
<line x1="587.5" y1="1206" x2="700.5" y2="1206" stroke="#0000ff" stroke-width="4.6" stroke-linecap="round"/>
<text x="715.5" y="1224" font-size="50.8" text-anchor="start" font-weight="bold" font-style="normal" fill="#000" >70 nm NFI</text>
<line x1="587.5" y1="1269.5" x2="700.5" y2="1269.5" stroke="#ff0000" stroke-width="4.6" stroke-linecap="round"/>
<text x="715.5" y="1286.5" font-size="50.8" text-anchor="start" font-weight="bold" font-style="normal" fill="#000" >80 nm NFI</text>
<line x1="587.5" y1="1333.5" x2="700.5" y2="1333.5" stroke="#000" stroke-width="4.6" stroke-linecap="round"/>
<text x="715.5" y="1349.5" font-size="50.8" text-anchor="start" font-weight="bold" font-style="normal" fill="#000" >MI</text>
<circle cx="272.8" cy="1380.8" r="32" fill="none" stroke="#ff0000" stroke-width="4.5" stroke-dasharray="0.1 11.1" stroke-linecap="round"/>
<polygon points="244,1379.3 224,1379.3 224,1372.8 197,1381.8 224,1390.8 224,1384.3 244,1384.3" fill="#ff0000" />
<ellipse cx="356.5" cy="1580.3" rx="13.5" ry="21" fill="none" stroke="#000" stroke-width="4.5" stroke-dasharray="0.1 10.6" stroke-linecap="round"/>
<polygon points="372,1580.6 439.5,1580.6 439.5,1587.1 467.5,1578.6 439.5,1570.1 439.5,1576.6 372,1576.6" fill="#000" />
</g>
<g id="chart2">
<defs>
<radialGradient id="gb" cx="0.38" cy="0.35" r="0.6"><stop offset="0" stop-color="#bfe3ee"/><stop offset="0.28" stop-color="#7fb0ee"/><stop offset="0.5" stop-color="#0000ff"/><stop offset="1" stop-color="#0000ff"/></radialGradient>
<radialGradient id="gk" cx="0.38" cy="0.35" r="0.6"><stop offset="0" stop-color="#ffffff"/><stop offset="0.3" stop-color="#b0b0b0"/><stop offset="0.55" stop-color="#000"/><stop offset="1" stop-color="#000"/></radialGradient>
<marker id="mb" markerWidth="18" markerHeight="18" refX="9" refY="9" markerUnits="userSpaceOnUse"><circle cx="9" cy="9" r="7.6" fill="#0000ff"/><circle cx="7.6" cy="7.4" r="2.4" fill="#7fa6f2"/></marker>
<marker id="mbh" markerWidth="18" markerHeight="18" refX="9" refY="9" markerUnits="userSpaceOnUse"><circle cx="9" cy="9" r="7.6" fill="url(#gb)"/></marker>
<marker id="mr" markerWidth="20" markerHeight="20" refX="10" refY="10" markerUnits="userSpaceOnUse"><circle cx="10" cy="10" r="7.4" fill="#fff" stroke="#ff0000" stroke-width="1.6"/></marker>
<marker id="mk" markerWidth="16" markerHeight="16" refX="8" refY="8" markerUnits="userSpaceOnUse"><circle cx="8" cy="8" r="6.3" fill="#000"/><circle cx="7" cy="6.8" r="1.7" fill="#555"/></marker>
<marker id="mkh" markerWidth="16" markerHeight="16" refX="8" refY="8" markerUnits="userSpaceOnUse"><circle cx="8" cy="8" r="6.3" fill="url(#gk)"/></marker>
</defs>
<clipPath id="c2"><rect x="1386.4" y="1045.9" width="429.5" height="701.4"/></clipPath>
<line x1="1386.4" y1="1386.3" x2="1812.4" y2="1386.3" stroke="#0000ff" stroke-width="3.3" stroke-dasharray="13.5 5 3.2 5"/>
<line x1="1386.4" y1="1429.8" x2="1812.4" y2="1429.8" stroke="#ff0000" stroke-width="3.3" stroke-dasharray="13.5 5 3.2 5"/>
<g clip-path="url(#c2)">
<polyline points="1386,1691.3 1386.5,1691.5 1387,1691.6 1387.5,1691.7 1388,1691.8 1388.4,1691.9 1388.9,1692 1389.4,1692.1 1389.9,1692.2 1390.4,1692.3 1390.9,1692.4 1391.4,1692.5 1391.8,1692.6 1392.3,1692.7 1392.8,1692.8 1393.3,1692.9 1393.8,1693 1394.3,1693.1 1394.7,1693.1 1395.2,1693.2 1395.7,1693.3 1396.2,1693.4 1396.7,1693.4 1397.2,1693.5 1397.7,1693.6 1398.1,1693.7 1398.6,1693.7 1399.1,1693.8 1399.6,1693.8 1400.1,1693.9 1400.6,1694 1401,1694 1401.5,1694.1 1402,1694.1 1402.5,1694.2 1403,1694.2 1403.5,1694.3 1404,1694.3 1404.4,1694.4 1404.9,1694.4 1405.4,1694.5 1405.9,1694.5 1406.4,1694.5 1406.9,1694.6 1407.4,1694.6 1407.8,1694.7 1408.3,1694.7 1408.8,1694.7 1409.3,1694.8 1409.8,1694.8 1410.3,1694.8 1410.7,1694.9 1411.2,1694.9 1411.7,1694.9 1412.2,1694.9 1412.7,1695 1413.2,1695 1413.7,1695 1414.1,1695 1414.6,1695 1415.1,1695.1 1415.6,1695.1 1416.1,1695.1 1416.6,1695.1 1417,1695.1 1417.5,1695.1 1418,1695.2 1418.5,1695.2 1419,1695.2 1419.5,1695.2 1420,1695.2 1420.4,1695.2 1420.9,1695.2 1421.4,1695.2 1421.9,1695.2 1422.4,1695.2 1422.9,1695.3 1423.3,1695.3 1423.8,1695.3 1424.3,1695.3 1424.8,1695.3 1425.3,1695.3 1425.8,1695.3 1426.3,1695.3 1426.7,1695.3 1427.2,1695.3 1427.7,1695.3 1428.2,1695.3 1428.7,1695.3 1429.2,1695.3 1429.7,1695.3 1430.1,1695.3 1430.6,1695.3 1431.1,1695.3 1431.6,1695.3 1432.1,1695.3 1432.6,1695.3 1433,1695.3 1433.5,1695.3 1434,1695.3 1434.5,1449.6 1435,1442.6 1435.5,1438.1 1436,1435.3 1436.4,1433.5 1436.9,1431.9 1437.4,1429.8 1437.9,1427.3 1438.4,1424.9 1438.9,1422.7 1439.3,1420.5 1439.8,1418.5 1440.3,1416.6 1440.8,1414.7 1441.3,1412.9 1441.8,1411.2 1442.3,1409.5 1442.7,1407.8 1443.2,1406.2 1443.7,1404.6 1444.2,1403.1 1444.7,1401.7 1445.2,1400.3 1445.7,1399 1446.1,1397.7 1446.6,1396.5 1447.1,1395.3 1447.6,1394.1 1448.1,1393 1448.6,1391.9 1449,1390.8 1449.5,1389.8 1450,1388.8 1450.5,1387.9 1451,1387 1451.5,1386.1 1452,1385.3 1452.4,1384.6 1452.9,1383.9 1453.4,1383.2 1453.9,1382.5 1454.4,1381.8 1454.9,1381.1 1455.3,1380.5 1455.8,1379.8 1456.3,1379.2 1456.8,1378.6 1457.3,1378.1 1457.8,1377.5 1458.3,1377 1458.7,1376.6 1459.2,1376.2 1459.7,1375.8 1460.2,1375.5 1460.7,1375.2 1461.2,1375 1461.6,1374.8 1462.1,1374.7 1462.6,1374.5 1463.1,1374.4 1463.6,1374.2 1464.1,1374.1 1464.6,1373.9 1465,1373.8 1465.5,1373.7 1466,1373.6 1466.5,1373.5 1467,1373.4 1467.5,1373.3 1468,1373.2 1468.4,1373.1 1468.9,1373 1469.4,1372.9 1469.9,1372.8 1470.4,1372.7 1470.9,1372.7 1471.3,1372.6 1471.8,1372.5 1472.3,1372.4 1472.8,1372.4 1473.3,1372.3 1473.8,1372.2 1474.3,1372.2 1474.7,1372.1 1475.2,1372 1475.7,1372 1476.2,1371.9 1476.7,1371.8 1477.2,1371.8 1477.6,1371.7 1478.1,1371.6 1478.6,1371.5 1479.1,1371.5 1479.6,1371.4 1480.1,1371.3 1480.6,1371.3 1481,1371.2 1481.5,1371.1 1482,1371.1 1482.5,1371 1483,1370.9 1483.5,1370.9 1483.9,1370.8 1484.4,1370.7 1484.9,1370.7 1485.4,1370.6 1485.9,1370.6 1486.4,1370.5 1486.9,1370.4 1487.3,1370.4 1487.8,1370.3 1488.3,1370.3 1488.8,1370.2 1489.3,1370.2 1489.8,1370.1 1490.3,1370.1 1490.7,1370 1491.2,1369.9 1491.7,1369.9 1492.2,1369.8 1492.7,1369.8 1493.2,1369.8 1493.6,1369.7 1494.1,1369.7 1494.6,1369.6 1495.1,1369.6 1495.6,1369.5 1496.1,1369.5 1496.6,1369.4 1497,1369.4 1497.5,1369.4 1498,1369.3 1498.5,1369.3 1499,1369.2 1499.5,1369.2 1499.9,1369.2 1500.4,1369.1 1500.9,1369.1 1501.4,1369 1501.9,1369 1502.4,1369 1502.9,1368.9 1503.3,1368.9 1503.8,1368.9 1504.3,1368.8 1504.8,1368.8 1505.3,1368.8 1505.8,1368.7 1506.3,1368.7 1506.7,1368.7 1507.2,1368.6 1507.7,1368.6 1508.2,1368.6 1508.7,1368.5 1509.2,1368.5 1509.6,1368.5 1510.1,1368.4 1510.6,1368.4 1511.1,1368.4 1511.6,1368.3 1512.1,1368.3 1512.6,1368.3 1513,1368.2 1513.5,1368.2 1514,1368.2 1514.5,1368.1 1515,1368.1 1515.5,1368.1 1515.9,1368 1516.4,1368 1516.9,1368 1517.4,1368 1517.9,1367.9 1518.4,1367.9 1518.9,1367.9 1519.3,1367.8 1519.8,1367.8 1520.3,1367.8 1520.8,1367.7 1521.3,1367.7 1521.8,1367.7 1522.2,1367.7 1522.7,1367.6 1523.2,1367.6 1523.7,1367.6 1524.2,1367.6 1524.7,1367.5 1525.2,1367.5 1525.6,1367.5 1526.1,1367.4 1526.6,1367.4 1527.1,1367.4 1527.6,1367.4 1528.1,1367.3 1528.6,1367.3 1529,1367.3 1529.5,1367.3 1530,1367.2 1530.5,1367.2 1531,1367.2 1531.5,1367.2 1531.9,1367.1 1532.4,1367.1 1532.9,1367.1 1533.4,1367.1 1533.9,1367 1534.4,1367 1534.9,1367 1535.3,1367 1535.8,1366.9 1536.3,1366.9 1536.8,1366.9 1537.3,1366.9 1537.8,1366.8 1538.2,1366.8 1538.7,1366.8 1539.2,1366.8 1539.7,1366.7 1540.2,1366.7 1540.7,1366.7 1541.2,1366.7 1541.6,1366.7 1542.1,1366.6 1542.6,1366.6 1543.1,1366.6 1543.6,1366.6 1544.1,1366.5 1544.5,1366.5 1545,1366.5 1545.5,1366.5 1546,1366.4 1546.5,1366.4 1547,1366.4 1547.5,1366.4 1547.9,1366.3 1548.4,1366.3 1548.9,1366.3 1549.4,1366.3 1549.9,1366.3 1550.4,1366.2 1550.9,1366.2 1551.3,1366.2 1551.8,1366.2 1552.3,1366.1 1552.8,1366.1 1553.3,1366.1 1553.8,1366.1 1554.2,1366 1554.7,1366 1555.2,1366 1555.7,1366 1556.2,1365.9 1556.7,1365.9 1557.2,1365.9 1557.6,1365.9 1558.1,1365.8 1558.6,1365.8 1559.1,1365.8 1559.6,1365.8 1560.1,1365.7 1560.5,1365.7 1561,1365.7 1561.5,1365.7 1562,1365.6 1562.5,1365.6 1563,1365.6 1563.5,1365.6 1563.9,1365.5 1564.4,1365.5 1564.9,1365.5 1565.4,1365.4 1565.9,1365.4 1566.4,1365.4 1566.9,1365.4 1567.3,1365.3 1567.8,1365.3 1568.3,1365.3 1568.8,1365.3 1569.3,1365.2 1569.8,1365.2 1570.2,1365.2 1570.7,1365.1 1571.2,1365.1 1571.7,1365.1 1572.2,1365.1 1572.7,1365 1573.2,1365 1573.6,1365 1574.1,1365 1574.6,1364.9 1575.1,1364.9 1575.6,1364.9 1576.1,1364.8 1576.5,1364.8 1577,1364.8 1577.5,1364.8 1578,1364.7 1578.5,1364.7 1579,1364.7 1579.5,1364.7 1579.9,1364.6 1580.4,1364.6 1580.9,1364.6 1581.4,1364.6 1581.9,1364.5 1582.4,1364.5 1582.8,1364.5 1583.3,1364.5 1583.8,1364.4 1584.3,1364.4 1584.8,1364.4 1585.3,1364.4 1585.8,1364.3 1586.2,1364.3 1586.7,1364.3 1587.2,1364.3 1587.7,1364.2 1588.2,1364.2 1588.7,1364.2 1589.2,1364.2 1589.6,1364.2 1590.1,1364.1 1590.6,1364.1 1591.1,1364.1 1591.6,1364.1 1592.1,1364.1 1592.5,1364 1593,1364 1593.5,1364 1594,1364 1594.5,1364 1595,1364 1595.5,1363.9 1595.9,1363.9 1596.4,1363.9 1596.9,1363.9 1597.4,1363.9 1597.9,1363.9 1598.4,1363.8 1598.8,1363.8 1599.3,1363.8 1599.8,1363.8 1600.3,1363.8 1600.8,1363.8 1601.3,1363.8 1601.8,1363.8 1602.2,1363.8 1602.7,1363.8 1603.2,1363.7 1603.7,1363.7 1604.2,1363.7 1604.7,1363.7 1605.1,1363.7 1605.6,1363.7 1606.1,1363.7 1606.6,1363.7 1607.1,1363.7 1607.6,1363.7 1608.1,1363.7 1608.5,1363.7 1609,1372.2 1609.5,1424.2 1610,1458 1610.5,1470.8 1611,1477.8 1611.5,1481.8 1611.9,1484.6 1612.4,1486.9 1612.9,1489.1 1613.4,1491.1 1613.9,1492.7 1614.4,1494.3 1614.8,1496 1615.3,1498.4 1615.8,1502 1616.3,1508.8 1616.8,1518.2 1617.3,1528.8 1617.8,1539.3 1618.2,1548.4 1618.7,1556.8 1619.2,1565.3 1619.7,1573.8 1620.2,1581.8 1620.7,1588.9 1621.1,1594.9 1621.6,1599.3 1622.1,1603 1622.6,1606.4 1623.1,1609.3 1623.6,1612 1624.1,1614.5 1624.5,1616.8 1625,1618.9 1625.5,1621 1626,1623 1626.5,1625 1627,1626.9 1627.5,1628.8 1627.9,1630.6 1628.4,1632.3 1628.9,1633.9 1629.4,1635.4 1629.9,1636.7 1630.4,1637.8 1630.8,1638.8 1631.3,1639.7 1631.8,1640.5 1632.3,1641.3 1632.8,1642.1 1633.3,1642.8 1633.8,1643.6 1634.2,1644.3 1634.7,1644.9 1635.2,1645.6 1635.7,1646.2 1636.2,1646.8 1636.7,1647.4 1637.1,1647.9 1637.6,1648.5 1638.1,1649 1638.6,1649.5 1639.1,1650 1639.6,1650.4 1640.1,1650.9 1640.5,1651.3 1641,1651.7 1641.5,1652.1 1642,1652.5 1642.5,1652.9 1643,1653.3 1643.4,1653.6 1643.9,1654 1644.4,1654.3 1644.9,1654.6 1645.4,1655 1645.9,1655.3 1646.4,1655.6 1646.8,1655.9 1647.3,1656.2 1647.8,1656.5 1648.3,1656.8 1648.8,1657.1 1649.3,1657.4 1649.8,1657.7 1650.2,1657.9 1650.7,1658.2 1651.2,1658.5 1651.7,1658.7 1652.2,1659 1652.7,1659.3 1653.1,1659.5 1653.6,1659.8 1654.1,1660 1654.6,1660.2 1655.1,1660.5 1655.6,1660.7 1656.1,1660.9 1656.5,1661.2 1657,1661.4 1657.5,1661.6 1658,1661.8 1658.5,1662 1659,1662.3 1659.4,1662.5 1659.9,1662.7 1660.4,1662.9 1660.9,1663.1 1661.4,1663.3 1661.9,1663.5 1662.4,1663.7 1662.8,1663.8 1663.3,1664 1663.8,1664.2 1664.3,1664.4 1664.8,1664.6 1665.3,1664.8 1665.7,1664.9 1666.2,1665.1 1666.7,1665.3 1667.2,1665.5 1667.7,1665.7 1668.2,1665.8 1668.7,1666 1669.1,1666.2 1669.6,1666.3 1670.1,1666.5 1670.6,1666.7 1671.1,1666.8 1671.6,1667 1672.1,1667.2 1672.5,1667.4 1673,1667.5 1673.5,1667.7 1674,1667.9 1674.5,1668 1675,1668.2 1675.4,1668.4 1675.9,1668.5 1676.4,1668.7 1676.9,1668.9 1677.4,1669 1677.9,1669.2 1678.4,1669.3 1678.8,1669.5 1679.3,1669.7 1679.8,1669.8 1680.3,1670 1680.8,1670.2 1681.3,1670.3 1681.7,1670.5 1682.2,1670.6 1682.7,1670.8 1683.2,1671 1683.7,1671.1 1684.2,1671.3 1684.7,1671.4 1685.1,1671.6 1685.6,1671.7 1686.1,1671.9 1686.6,1672 1687.1,1672.2 1687.6,1672.3 1688.1,1672.5 1688.5,1672.7 1689,1672.8 1689.5,1673 1690,1673.1 1690.5,1673.3 1691,1673.4 1691.4,1673.5 1691.9,1673.7 1692.4,1673.8 1692.9,1674 1693.4,1674.1 1693.9,1674.3 1694.4,1674.4 1694.8,1674.6 1695.3,1674.7 1695.8,1674.9 1696.3,1675 1696.8,1675.1 1697.3,1675.3 1697.7,1675.4 1698.2,1675.6 1698.7,1675.7 1699.2,1675.8 1699.7,1676 1700.2,1676.1 1700.7,1676.2 1701.1,1676.4 1701.6,1676.5 1702.1,1676.6 1702.6,1676.8 1703.1,1676.9 1703.6,1677 1704,1677.2 1704.5,1677.3 1705,1677.4 1705.5,1677.6 1706,1677.7 1706.5,1677.8 1707,1678 1707.4,1678.1 1707.9,1678.2 1708.4,1678.3 1708.9,1678.5 1709.4,1678.6 1709.9,1678.7 1710.4,1678.8 1710.8,1678.9 1711.3,1679.1 1711.8,1679.2 1712.3,1679.3 1712.8,1679.4 1713.3,1679.5 1713.7,1679.7 1714.2,1679.8 1714.7,1679.9 1715.2,1680 1715.7,1680.1 1716.2,1680.2 1716.7,1680.4 1717.1,1680.5 1717.6,1680.6 1718.1,1680.7 1718.6,1680.8 1719.1,1680.9 1719.6,1681 1720,1681.1 1720.5,1681.3 1721,1681.4 1721.5,1681.5 1722,1681.6 1722.5,1681.7 1723,1681.8 1723.4,1681.9 1723.9,1682 1724.4,1682.1 1724.9,1682.2 1725.4,1682.3 1725.9,1682.4 1726.3,1682.5 1726.8,1682.6 1727.3,1682.7 1727.8,1682.8 1728.3,1682.9 1728.8,1683 1729.3,1683.1 1729.7,1683.2 1730.2,1683.3 1730.7,1683.4 1731.2,1683.5 1731.7,1683.6 1732.2,1683.6 1732.7,1683.7 1733.1,1683.8 1733.6,1683.9 1734.1,1684 1734.6,1684.1 1735.1,1684.2 1735.6,1684.3 1736,1684.4 1736.5,1684.4 1737,1684.5 1737.5,1684.6 1738,1684.7 1738.5,1684.8 1739,1684.9 1739.4,1684.9 1739.9,1685 1740.4,1685.1 1740.9,1685.2 1741.4,1685.3 1741.9,1685.3 1742.3,1685.4 1742.8,1685.5 1743.3,1685.6 1743.8,1685.6 1744.3,1685.7 1744.8,1685.8 1745.3,1685.9 1745.7,1685.9 1746.2,1686 1746.7,1686.1 1747.2,1686.2 1747.7,1686.2 1748.2,1686.3 1748.7,1686.4 1749.1,1686.5 1749.6,1686.5 1750.1,1686.6 1750.6,1686.7 1751.1,1686.7 1751.6,1686.8 1752,1686.9 1752.5,1686.9 1753,1687 1753.5,1687.1 1754,1687.1 1754.5,1687.2 1755,1687.3 1755.4,1687.3 1755.9,1687.4 1756.4,1687.5 1756.9,1687.5 1757.4,1687.6 1757.9,1687.7 1758.3,1687.7 1758.8,1687.8 1759.3,1687.9 1759.8,1687.9 1760.3,1688 1760.8,1688 1761.3,1688.1 1761.7,1688.2 1762.2,1688.2 1762.7,1688.3 1763.2,1688.4 1763.7,1688.4 1764.2,1688.5 1764.6,1688.5 1765.1,1688.6 1765.6,1688.7 1766.1,1688.7 1766.6,1688.8 1767.1,1688.8 1767.6,1688.9 1768,1689 1768.5,1689 1769,1689.1 1769.5,1689.1 1770,1689.2 1770.5,1689.2 1771,1689.3 1771.4,1689.4 1771.9,1689.4 1772.4,1689.5 1772.9,1689.5 1773.4,1689.6 1773.9,1689.7 1774.3,1689.7 1774.8,1689.8 1775.3,1689.8 1775.8,1689.9 1776.3,1689.9 1776.8,1690 1777.3,1690.1 1777.7,1690.1 1778.2,1690.2 1778.7,1690.2 1779.2,1690.3 1779.7,1690.3 1780.2,1690.4 1780.6,1690.4 1781.1,1690.5 1781.6,1690.6 1782.1,1690.6 1782.6,1690.7 1783.1,1690.7 1783.6,1690.8 1784,1690.8 1784.5,1690.9 1785,1690.9 1785.5,1691 1786,1691 1786.5,1691.1 1786.9,1691.1 1787.4,1691.2 1787.9,1691.2 1788.4,1691.3 1788.9,1691.4 1789.4,1691.4 1789.9,1691.5 1790.3,1691.5 1790.8,1691.6 1791.3,1691.6 1791.8,1691.7 1792.3,1691.7 1792.8,1691.8 1793.3,1691.8 1793.7,1691.9 1794.2,1691.9 1794.7,1692 1795.2,1692 1795.7,1692.1 1796.2,1692.1 1796.6,1692.2 1797.1,1692.2 1797.6,1692.2 1798.1,1692.3 1798.6,1692.3 1799.1,1692.4 1799.6,1692.4 1800,1692.5 1800.5,1692.5 1801,1692.6 1801.5,1692.6 1802,1692.7 1802.5,1692.7 1802.9,1692.8 1803.4,1692.8 1803.9,1692.8 1804.4,1692.9 1804.9,1692.9 1805.4,1693 1805.9,1693 1806.3,1693.1 1806.8,1693.1 1807.3,1693.2 1807.8,1693.2 1808.3,1693.2 1808.8,1693.3 1809.3,1693.3 1809.7,1693.4 1810.2,1693.4 1810.7,1693.4 1811.2,1693.5 1811.7,1693.5 1812.2,1693.6 1812.6,1693.6" fill="none" stroke="#0000ff" stroke-width="4.5" stroke-linejoin="round" marker-start="url(#mb)" marker-mid="url(#mb)" marker-end="url(#mb)"/>
<polyline points="1386,1665.9 1386.5,1666.1 1387,1666.2 1387.5,1666.4 1388,1666.5 1388.4,1666.7 1388.9,1666.8 1389.4,1666.9 1389.9,1667.1 1390.4,1667.2 1390.9,1667.3 1391.4,1667.4 1391.8,1667.6 1392.3,1667.7 1392.8,1667.8 1393.3,1667.9 1393.8,1668 1394.3,1668.1 1394.7,1668.2 1395.2,1668.3 1395.7,1668.4 1396.2,1668.5 1396.7,1668.6 1397.2,1668.7 1397.7,1668.8 1398.1,1668.9 1398.6,1669 1399.1,1669.1 1399.6,1669.1 1400.1,1669.2 1400.6,1669.3 1401,1669.4 1401.5,1669.4 1402,1669.5 1402.5,1669.6 1403,1669.6 1403.5,1669.7 1404,1669.8 1404.4,1669.8 1404.9,1669.9 1405.4,1669.9 1405.9,1670 1406.4,1670 1406.9,1670.1 1407.4,1670.1 1407.8,1670.2 1408.3,1670.2 1408.8,1670.3 1409.3,1670.3 1409.8,1670.4 1410.3,1670.4 1410.7,1670.4 1411.2,1670.5 1411.7,1670.5 1412.2,1670.5 1412.7,1670.6 1413.2,1670.6 1413.7,1670.6 1414.1,1670.7 1414.6,1670.7 1415.1,1670.7 1415.6,1670.7 1416.1,1670.7 1416.6,1670.8 1417,1670.8 1417.5,1670.8 1418,1670.8 1418.5,1670.8 1419,1670.9 1419.5,1670.9 1420,1670.9 1420.4,1670.9 1420.9,1670.9 1421.4,1670.9 1421.9,1670.9 1422.4,1670.9 1422.9,1670.9 1423.3,1671 1423.8,1671 1424.3,1671 1424.8,1671 1425.3,1671 1425.8,1671 1426.3,1671 1426.7,1671 1427.2,1671 1427.7,1671 1428.2,1671 1428.7,1671 1429.2,1671 1429.7,1671 1430.1,1671 1430.6,1671 1431.1,1671 1431.6,1671 1432.1,1671 1432.6,1671 1433,1671 1433.5,1671 1434,1671 1434.5,1491.9 1435,1485.8 1435.5,1483.1 1436,1480.6 1436.4,1477.4 1436.9,1474.3 1437.4,1471.4 1437.9,1468.8 1438.4,1466.5 1438.9,1464.5 1439.3,1462.7 1439.8,1461 1440.3,1459.4 1440.8,1457.9 1441.3,1456.5 1441.8,1455.2 1442.3,1454 1442.7,1452.8 1443.2,1451.7 1443.7,1450.6 1444.2,1449.5 1444.7,1448.5 1445.2,1447.6 1445.7,1446.7 1446.1,1445.8 1446.6,1445.1 1447.1,1444.3 1447.6,1443.6 1448.1,1442.8 1448.6,1442.1 1449,1441.5 1449.5,1440.8 1450,1440.2 1450.5,1439.7 1451,1439.1 1451.5,1438.6 1452,1438.1 1452.4,1437.7 1452.9,1437.3 1453.4,1436.9 1453.9,1436.5 1454.4,1436.2 1454.9,1435.8 1455.3,1435.4 1455.8,1435.1 1456.3,1434.8 1456.8,1434.5 1457.3,1434.2 1457.8,1433.9 1458.3,1433.6 1458.7,1433.3 1459.2,1433 1459.7,1432.8 1460.2,1432.5 1460.7,1432.3 1461.2,1432 1461.6,1431.8 1462.1,1431.6 1462.6,1431.3 1463.1,1431.1 1463.6,1430.9 1464.1,1430.7 1464.6,1430.5 1465,1430.3 1465.5,1430.1 1466,1430 1466.5,1429.8 1467,1429.6 1467.5,1429.4 1468,1429.2 1468.4,1429.1 1468.9,1428.9 1469.4,1428.7 1469.9,1428.6 1470.4,1428.4 1470.9,1428.3 1471.3,1428.1 1471.8,1428 1472.3,1427.8 1472.8,1427.7 1473.3,1427.5 1473.8,1427.4 1474.3,1427.2 1474.7,1427.1 1475.2,1427 1475.7,1426.8 1476.2,1426.7 1476.7,1426.6 1477.2,1426.4 1477.6,1426.3 1478.1,1426.2 1478.6,1426.1 1479.1,1426 1479.6,1425.8 1480.1,1425.7 1480.6,1425.6 1481,1425.5 1481.5,1425.4 1482,1425.3 1482.5,1425.2 1483,1425.1 1483.5,1425 1483.9,1424.9 1484.4,1424.7 1484.9,1424.6 1485.4,1424.5 1485.9,1424.4 1486.4,1424.3 1486.9,1424.2 1487.3,1424.1 1487.8,1424 1488.3,1423.9 1488.8,1423.8 1489.3,1423.7 1489.8,1423.6 1490.3,1423.5 1490.7,1423.4 1491.2,1423.3 1491.7,1423.2 1492.2,1423.1 1492.7,1423 1493.2,1422.9 1493.6,1422.8 1494.1,1422.7 1494.6,1422.6 1495.1,1422.5 1495.6,1422.4 1496.1,1422.3 1496.6,1422.2 1497,1422.2 1497.5,1422.1 1498,1422 1498.5,1421.9 1499,1421.8 1499.5,1421.7 1499.9,1421.6 1500.4,1421.5 1500.9,1421.4 1501.4,1421.4 1501.9,1421.3 1502.4,1421.2 1502.9,1421.1 1503.3,1421 1503.8,1420.9 1504.3,1420.8 1504.8,1420.8 1505.3,1420.7 1505.8,1420.6 1506.3,1420.5 1506.7,1420.4 1507.2,1420.4 1507.7,1420.3 1508.2,1420.2 1508.7,1420.1 1509.2,1420.1 1509.6,1420 1510.1,1419.9 1510.6,1419.8 1511.1,1419.8 1511.6,1419.7 1512.1,1419.6 1512.6,1419.6 1513,1419.5 1513.5,1419.4 1514,1419.4 1514.5,1419.3 1515,1419.2 1515.5,1419.2 1515.9,1419.1 1516.4,1419 1516.9,1419 1517.4,1418.9 1517.9,1418.9 1518.4,1418.8 1518.9,1418.7 1519.3,1418.7 1519.8,1418.6 1520.3,1418.6 1520.8,1418.5 1521.3,1418.5 1521.8,1418.4 1522.2,1418.4 1522.7,1418.3 1523.2,1418.3 1523.7,1418.2 1524.2,1418.2 1524.7,1418.1 1525.2,1418.1 1525.6,1418 1526.1,1418 1526.6,1417.9 1527.1,1417.9 1527.6,1417.9 1528.1,1417.8 1528.6,1417.8 1529,1417.7 1529.5,1417.7 1530,1417.6 1530.5,1417.6 1531,1417.6 1531.5,1417.5 1531.9,1417.5 1532.4,1417.4 1532.9,1417.4 1533.4,1417.4 1533.9,1417.3 1534.4,1417.3 1534.9,1417.2 1535.3,1417.2 1535.8,1417.1 1536.3,1417.1 1536.8,1417.1 1537.3,1417 1537.8,1417 1538.2,1416.9 1538.7,1416.9 1539.2,1416.9 1539.7,1416.8 1540.2,1416.8 1540.7,1416.7 1541.2,1416.7 1541.6,1416.7 1542.1,1416.6 1542.6,1416.6 1543.1,1416.5 1543.6,1416.5 1544.1,1416.5 1544.5,1416.4 1545,1416.4 1545.5,1416.4 1546,1416.3 1546.5,1416.3 1547,1416.2 1547.5,1416.2 1547.9,1416.2 1548.4,1416.1 1548.9,1416.1 1549.4,1416.1 1549.9,1416 1550.4,1416 1550.9,1415.9 1551.3,1415.9 1551.8,1415.9 1552.3,1415.8 1552.8,1415.8 1553.3,1415.8 1553.8,1415.7 1554.2,1415.7 1554.7,1415.7 1555.2,1415.6 1555.7,1415.6 1556.2,1415.5 1556.7,1415.5 1557.2,1415.5 1557.6,1415.4 1558.1,1415.4 1558.6,1415.4 1559.1,1415.3 1559.6,1415.3 1560.1,1415.3 1560.5,1415.2 1561,1415.2 1561.5,1415.2 1562,1415.1 1562.5,1415.1 1563,1415.1 1563.5,1415 1563.9,1415 1564.4,1415 1564.9,1415 1565.4,1414.9 1565.9,1414.9 1566.4,1414.9 1566.9,1414.8 1567.3,1414.8 1567.8,1414.8 1568.3,1414.7 1568.8,1414.7 1569.3,1414.7 1569.8,1414.7 1570.2,1414.6 1570.7,1414.6 1571.2,1414.6 1571.7,1414.5 1572.2,1414.5 1572.7,1414.5 1573.2,1414.5 1573.6,1414.4 1574.1,1414.4 1574.6,1414.4 1575.1,1414.4 1575.6,1414.3 1576.1,1414.3 1576.5,1414.3 1577,1414.3 1577.5,1414.2 1578,1414.2 1578.5,1414.2 1579,1414.2 1579.5,1414.1 1579.9,1414.1 1580.4,1414.1 1580.9,1414.1 1581.4,1414.1 1581.9,1414 1582.4,1414 1582.8,1414 1583.3,1414 1583.8,1414 1584.3,1413.9 1584.8,1413.9 1585.3,1413.9 1585.8,1413.9 1586.2,1413.9 1586.7,1413.8 1587.2,1413.8 1587.7,1413.8 1588.2,1413.8 1588.7,1413.8 1589.2,1413.8 1589.6,1413.7 1590.1,1413.7 1590.6,1413.7 1591.1,1413.7 1591.6,1413.7 1592.1,1413.7 1592.5,1413.7 1593,1413.6 1593.5,1413.6 1594,1413.6 1594.5,1413.6 1595,1413.6 1595.5,1413.6 1595.9,1413.6 1596.4,1413.6 1596.9,1413.5 1597.4,1413.5 1597.9,1413.5 1598.4,1413.5 1598.8,1413.5 1599.3,1413.5 1599.8,1413.5 1600.3,1413.5 1600.8,1413.5 1601.3,1413.5 1601.8,1413.5 1602.2,1413.5 1602.7,1413.5 1603.2,1413.4 1603.7,1413.4 1604.2,1413.4 1604.7,1413.4 1605.1,1413.4 1605.6,1413.4 1606.1,1413.4 1606.6,1413.4 1607.1,1413.4 1607.6,1413.4 1608.1,1413.4 1608.5,1413.4 1609,1414 1609.5,1462.6 1610,1491.4 1610.5,1506.6 1611,1516.2 1611.5,1523 1611.9,1528.7 1612.4,1532.9 1612.9,1536.5 1613.4,1539.7 1613.9,1542.8 1614.4,1545.8 1614.8,1548.6 1615.3,1551.2 1615.8,1553.5 1616.3,1555.7 1616.8,1557.8 1617.3,1559.8 1617.8,1561.7 1618.2,1563.5 1618.7,1565.4 1619.2,1567.2 1619.7,1569 1620.2,1570.8 1620.7,1572.5 1621.1,1574.1 1621.6,1575.5 1622.1,1576.9 1622.6,1578.3 1623.1,1579.6 1623.6,1580.9 1624.1,1582.1 1624.5,1583.4 1625,1584.6 1625.5,1585.7 1626,1586.9 1626.5,1588 1627,1589 1627.5,1590 1627.9,1591 1628.4,1592 1628.9,1592.9 1629.4,1593.7 1629.9,1594.5 1630.4,1595.3 1630.8,1596.1 1631.3,1596.8 1631.8,1597.5 1632.3,1598.2 1632.8,1598.8 1633.3,1599.5 1633.8,1600.2 1634.2,1600.8 1634.7,1601.4 1635.2,1602 1635.7,1602.6 1636.2,1603.2 1636.7,1603.8 1637.1,1604.3 1637.6,1604.9 1638.1,1605.4 1638.6,1605.9 1639.1,1606.4 1639.6,1606.9 1640.1,1607.4 1640.5,1607.9 1641,1608.4 1641.5,1608.9 1642,1609.4 1642.5,1609.8 1643,1610.3 1643.4,1610.7 1643.9,1611.2 1644.4,1611.6 1644.9,1612 1645.4,1612.4 1645.9,1612.9 1646.4,1613.3 1646.8,1613.7 1647.3,1614.1 1647.8,1614.5 1648.3,1614.9 1648.8,1615.3 1649.3,1615.7 1649.8,1616.1 1650.2,1616.5 1650.7,1616.9 1651.2,1617.3 1651.7,1617.7 1652.2,1618.1 1652.7,1618.5 1653.1,1618.9 1653.6,1619.2 1654.1,1619.6 1654.6,1620 1655.1,1620.4 1655.6,1620.7 1656.1,1621.1 1656.5,1621.5 1657,1621.8 1657.5,1622.2 1658,1622.5 1658.5,1622.9 1659,1623.2 1659.4,1623.5 1659.9,1623.9 1660.4,1624.2 1660.9,1624.6 1661.4,1624.9 1661.9,1625.2 1662.4,1625.5 1662.8,1625.8 1663.3,1626.2 1663.8,1626.5 1664.3,1626.8 1664.8,1627.1 1665.3,1627.4 1665.7,1627.7 1666.2,1628 1666.7,1628.3 1667.2,1628.5 1667.7,1628.8 1668.2,1629.1 1668.7,1629.4 1669.1,1629.7 1669.6,1629.9 1670.1,1630.2 1670.6,1630.4 1671.1,1630.7 1671.6,1631 1672.1,1631.2 1672.5,1631.4 1673,1631.7 1673.5,1631.9 1674,1632.1 1674.5,1632.4 1675,1632.6 1675.4,1632.8 1675.9,1633 1676.4,1633.3 1676.9,1633.5 1677.4,1633.7 1677.9,1633.9 1678.4,1634.1 1678.8,1634.3 1679.3,1634.5 1679.8,1634.7 1680.3,1634.9 1680.8,1635.1 1681.3,1635.3 1681.7,1635.5 1682.2,1635.7 1682.7,1635.9 1683.2,1636.1 1683.7,1636.3 1684.2,1636.5 1684.7,1636.7 1685.1,1636.9 1685.6,1637.1 1686.1,1637.3 1686.6,1637.5 1687.1,1637.6 1687.6,1637.8 1688.1,1638 1688.5,1638.2 1689,1638.4 1689.5,1638.5 1690,1638.7 1690.5,1638.9 1691,1639.1 1691.4,1639.2 1691.9,1639.4 1692.4,1639.6 1692.9,1639.8 1693.4,1639.9 1693.9,1640.1 1694.4,1640.3 1694.8,1640.4 1695.3,1640.6 1695.8,1640.8 1696.3,1640.9 1696.8,1641.1 1697.3,1641.2 1697.7,1641.4 1698.2,1641.6 1698.7,1641.7 1699.2,1641.9 1699.7,1642 1700.2,1642.2 1700.7,1642.3 1701.1,1642.5 1701.6,1642.6 1702.1,1642.8 1702.6,1642.9 1703.1,1643.1 1703.6,1643.2 1704,1643.4 1704.5,1643.5 1705,1643.7 1705.5,1643.8 1706,1644 1706.5,1644.1 1707,1644.3 1707.4,1644.4 1707.9,1644.6 1708.4,1644.7 1708.9,1644.8 1709.4,1645 1709.9,1645.1 1710.4,1645.3 1710.8,1645.4 1711.3,1645.5 1711.8,1645.7 1712.3,1645.8 1712.8,1646 1713.3,1646.1 1713.7,1646.2 1714.2,1646.4 1714.7,1646.5 1715.2,1646.6 1715.7,1646.8 1716.2,1646.9 1716.7,1647.1 1717.1,1647.2 1717.6,1647.3 1718.1,1647.5 1718.6,1647.6 1719.1,1647.7 1719.6,1647.9 1720,1648 1720.5,1648.1 1721,1648.3 1721.5,1648.4 1722,1648.5 1722.5,1648.6 1723,1648.8 1723.4,1648.9 1723.9,1649 1724.4,1649.2 1724.9,1649.3 1725.4,1649.4 1725.9,1649.6 1726.3,1649.7 1726.8,1649.8 1727.3,1650 1727.8,1650.1 1728.3,1650.2 1728.8,1650.4 1729.3,1650.5 1729.7,1650.6 1730.2,1650.7 1730.7,1650.9 1731.2,1651 1731.7,1651.1 1732.2,1651.3 1732.7,1651.4 1733.1,1651.5 1733.6,1651.7 1734.1,1651.8 1734.6,1651.9 1735.1,1652.1 1735.6,1652.2 1736,1652.3 1736.5,1652.5 1737,1652.6 1737.5,1652.7 1738,1652.9 1738.5,1653 1739,1653.1 1739.4,1653.2 1739.9,1653.4 1740.4,1653.5 1740.9,1653.6 1741.4,1653.7 1741.9,1653.9 1742.3,1654 1742.8,1654.1 1743.3,1654.2 1743.8,1654.4 1744.3,1654.5 1744.8,1654.6 1745.3,1654.7 1745.7,1654.9 1746.2,1655 1746.7,1655.1 1747.2,1655.2 1747.7,1655.3 1748.2,1655.5 1748.7,1655.6 1749.1,1655.7 1749.6,1655.8 1750.1,1655.9 1750.6,1656.1 1751.1,1656.2 1751.6,1656.3 1752,1656.4 1752.5,1656.5 1753,1656.6 1753.5,1656.8 1754,1656.9 1754.5,1657 1755,1657.1 1755.4,1657.2 1755.9,1657.3 1756.4,1657.4 1756.9,1657.6 1757.4,1657.7 1757.9,1657.8 1758.3,1657.9 1758.8,1658 1759.3,1658.1 1759.8,1658.2 1760.3,1658.4 1760.8,1658.5 1761.3,1658.6 1761.7,1658.7 1762.2,1658.8 1762.7,1658.9 1763.2,1659 1763.7,1659.1 1764.2,1659.2 1764.6,1659.4 1765.1,1659.5 1765.6,1659.6 1766.1,1659.7 1766.6,1659.8 1767.1,1659.9 1767.6,1660 1768,1660.1 1768.5,1660.2 1769,1660.3 1769.5,1660.4 1770,1660.5 1770.5,1660.7 1771,1660.8 1771.4,1660.9 1771.9,1661 1772.4,1661.1 1772.9,1661.2 1773.4,1661.3 1773.9,1661.4 1774.3,1661.5 1774.8,1661.6 1775.3,1661.7 1775.8,1661.8 1776.3,1661.9 1776.8,1662 1777.3,1662.2 1777.7,1662.3 1778.2,1662.4 1778.7,1662.5 1779.2,1662.6 1779.7,1662.7 1780.2,1662.8 1780.6,1662.9 1781.1,1663 1781.6,1663.1 1782.1,1663.2 1782.6,1663.3 1783.1,1663.4 1783.6,1663.5 1784,1663.6 1784.5,1663.7 1785,1663.8 1785.5,1663.9 1786,1664 1786.5,1664.1 1786.9,1664.2 1787.4,1664.3 1787.9,1664.4 1788.4,1664.5 1788.9,1664.6 1789.4,1664.7 1789.9,1664.8 1790.3,1664.9 1790.8,1665 1791.3,1665.1 1791.8,1665.2 1792.3,1665.3 1792.8,1665.4 1793.3,1665.5 1793.7,1665.6 1794.2,1665.7 1794.7,1665.8 1795.2,1665.9 1795.7,1666 1796.2,1666.1 1796.6,1666.2 1797.1,1666.3 1797.6,1666.4 1798.1,1666.5 1798.6,1666.6 1799.1,1666.7 1799.6,1666.8 1800,1666.9 1800.5,1667 1801,1667.1 1801.5,1667.2 1802,1667.3 1802.5,1667.4 1802.9,1667.5 1803.4,1667.6 1803.9,1667.7 1804.4,1667.8 1804.9,1667.9 1805.4,1667.9 1805.9,1668 1806.3,1668.1 1806.8,1668.2 1807.3,1668.3 1807.8,1668.4 1808.3,1668.5 1808.8,1668.6 1809.3,1668.7 1809.7,1668.8 1810.2,1668.9 1810.7,1669 1811.2,1669 1811.7,1669.1 1812.2,1669.2 1812.6,1669.3" fill="none" stroke="#ff0000" stroke-width="4.5" stroke-linejoin="round" marker-start="url(#mr)" marker-mid="url(#mr)" marker-end="url(#mr)"/>
</g>
<circle cx="1607.6" cy="1363.7" r="7.6" fill="url(#gb)"/>
<circle cx="1608.5" cy="1372.2" r="7.6" fill="url(#gb)"/>
<circle cx="1432.6" cy="1695.3" r="7.6" fill="url(#gb)"/>
<line x1="1386.4" y1="1663.1" x2="1812.4" y2="1663.1" stroke="#000" stroke-width="3" stroke-dasharray="13.5 5 3.2 5"/>
<line x1="1418" y1="1698.7" x2="1812.4" y2="1698.7" stroke="#000" stroke-width="2.6" />
<rect x="1386.4" y="1045.9" width="426" height="701.4" fill="none" stroke="#000" stroke-width="7"/>
<path d="M1386.4,1717.9h-12.5M1386.4,1661.4h-6M1386.4,1604.9h-12.5M1386.4,1548.4h-6M1386.4,1491.9h-12.5M1386.4,1435.5h-6M1386.4,1379h-12.5M1386.4,1322.5h-6M1386.4,1266h-12.5M1386.4,1209.5h-6M1386.4,1153h-12.5M1386.4,1096.5h-6M1434.5,1747.3v12.5M1531.5,1747.3v12.5M1628.4,1747.3v12.5M1725.4,1747.3v12.5M1386,1747.3v6M1483,1747.3v6M1579.9,1747.3v6M1676.9,1747.3v6M1773.9,1747.3v6" stroke="#000" stroke-width="7" stroke-linecap="round" fill="none"/>
<rect x="1414.9" y="1027.8" width="189.4" height="37.9" fill="#ff0000"/>
<rect x="1609.9" y="1027.8" width="189.1" height="37.9" fill="#0d0d0d"/>
<text x="1363.5" y="1733.9" font-size="53" text-anchor="end" font-weight="normal" font-style="normal" fill="#000" >0</text>
<text x="1363.5" y="1620.9" font-size="53" text-anchor="end" font-weight="normal" font-style="normal" fill="#000" >20</text>
<text x="1363.5" y="1507.9" font-size="53" text-anchor="end" font-weight="normal" font-style="normal" fill="#000" >40</text>
<text x="1363.5" y="1395" font-size="53" text-anchor="end" font-weight="normal" font-style="normal" fill="#000" >60</text>
<text x="1363.5" y="1282" font-size="53" text-anchor="end" font-weight="normal" font-style="normal" fill="#000" >80</text>
<text x="1363.5" y="1169" font-size="53" text-anchor="end" font-weight="normal" font-style="normal" fill="#000" >100</text>
<text x="1434.5" y="1811.5" font-size="53" text-anchor="middle" font-weight="normal" font-style="normal" fill="#000" >8</text>
<text x="1531.5" y="1811.5" font-size="53" text-anchor="middle" font-weight="normal" font-style="normal" fill="#000" >10</text>
<text x="1628.4" y="1811.5" font-size="53" text-anchor="middle" font-weight="normal" font-style="normal" fill="#000" >12</text>
<text x="1725.4" y="1811.5" font-size="53" text-anchor="middle" font-weight="normal" font-style="normal" fill="#000" >14</text>
<line x1="1416.5" y1="1091.6" x2="1533.5" y2="1091.6" stroke="#0000ff" stroke-width="4.6" stroke-linecap="round"/>
<circle cx="1474.9" cy="1091.6" r="7.6" fill="url(#gb)"/>
<line x1="1416.5" y1="1156.9" x2="1533.5" y2="1156.9" stroke="#ff0000" stroke-width="4.6" stroke-linecap="round"/>
<circle cx="1474.9" cy="1156.9" r="7.4" fill="#fff" stroke="#ff0000" stroke-width="1.6"/>
<text x="1548.8" y="1110" font-size="53.1" text-anchor="start" font-weight="bold" font-style="normal" fill="#000" >70 nm NFI</text>
<text x="1548.8" y="1175.3" font-size="53.1" text-anchor="start" font-weight="bold" font-style="normal" fill="#000" >80 nm NFI</text>
<text x="1418" y="1283.6" font-size="52.2" text-anchor="start" font-weight="bold" font-style="normal" fill="#0000ff" >0.21 s</text>
<polygon points="1459.5,1306 1459.5,1337.5 1453.3,1337.5 1461.8,1365.5 1470.3,1337.5 1464,1337.5 1464,1306" fill="#0000ff" />
<text x="1443.4" y="1552.2" font-size="52.2" text-anchor="start" font-weight="bold" font-style="normal" fill="#ff0000" >0.42 s</text>
<polygon points="1484.8,1515 1484.8,1469 1491.1,1469 1482.6,1441 1474.1,1469 1480.3,1469 1480.3,1515" fill="#ff0000" />
<text x="1631.9" y="1482.5" font-size="52.2" text-anchor="start" font-weight="bold" font-style="normal" fill="#0000ff" >1.05 s</text>
<polygon points="1670.3,1493 1670.3,1625.5 1664.1,1625.5 1672.6,1653.5 1681.1,1625.5 1674.8,1625.5 1674.8,1493" fill="#0000ff" />
<text x="1680.9" y="1553.7" font-size="52.2" text-anchor="start" font-weight="bold" font-style="normal" fill="#ff0000" >1.76 s</text>
<polygon points="1715.2,1566 1715.2,1612 1708.9,1612 1717.4,1640 1725.9,1612 1719.7,1612 1719.7,1566" fill="#ff0000" />
<text x="1375.5" y="1009" font-size="75" text-anchor="start" font-weight="bold" font-style="normal" fill="#ff0000" >UV on</text>
<text x="1611" y="1009" font-size="75" text-anchor="start" font-weight="bold" font-style="normal" fill="#000" >UV off</text>
<text transform="translate(1265.5,1669) rotate(-90)" font-size="72" text-anchor="start" font-weight="bold" font-style="italic" fill="#000" >I</text>
<text transform="translate(1298,1637) rotate(-90)" font-size="62" text-anchor="start" font-weight="bold" font-style="italic" fill="#000" >ds</text>
<text transform="translate(1264.5,1576) rotate(-90)" font-size="71" text-anchor="start" font-weight="normal" font-style="normal" fill="#000" >(mA/mm)</text>
<text x="1736.8" y="1871" font-size="69" xml:space="preserve"><tspan font-weight="bold" font-style="italic">Time</tspan><tspan x="1897">(s)</tspan></text>
</g>
<g id="chart3">
<clipPath id="c3"><rect x="1929.5" y="1047" width="429.2" height="700.1"/></clipPath>
<line x1="1929.5" y1="1505.8" x2="2355.2" y2="1505.8" stroke="#000" stroke-width="3" stroke-dasharray="13.5 5 3.2 5"/>
<line x1="1975.4" y1="1611.6" x2="2355.2" y2="1611.6" stroke="#000" stroke-width="3" stroke-dasharray="13.5 5 3.2 5"/>
<g clip-path="url(#c3)"><polyline points="1927.2,1609.9 1927.7,1609.9 1928.2,1609.9 1928.7,1610 1929.2,1610 1929.7,1610 1930.1,1610 1930.6,1610.1 1931.1,1610.1 1931.6,1610.1 1932.1,1610.1 1932.5,1610.2 1933,1610.2 1933.5,1610.2 1934,1610.3 1934.5,1610.3 1935,1610.3 1935.4,1610.4 1935.9,1610.4 1936.4,1610.4 1936.9,1610.4 1937.4,1610.5 1937.8,1610.5 1938.3,1610.5 1938.8,1610.6 1939.3,1610.6 1939.8,1610.6 1940.3,1610.7 1940.7,1610.7 1941.2,1610.8 1941.7,1610.8 1942.2,1610.8 1942.7,1610.9 1943.1,1610.9 1943.6,1610.9 1944.1,1611 1944.6,1611 1945.1,1611.1 1945.5,1611.1 1946,1611.1 1946.5,1611.2 1947,1611.2 1947.5,1611.3 1948,1611.3 1948.4,1611.3 1948.9,1611.4 1949.4,1611.4 1949.9,1611.5 1950.4,1611.5 1950.8,1611.6 1951.3,1611.6 1951.8,1611.6 1952.3,1611.7 1952.8,1611.7 1953.3,1611.8 1953.7,1611.8 1954.2,1611.9 1954.7,1612 1955.2,1612 1955.7,1612.1 1956.1,1612.2 1956.6,1612.2 1957.1,1612.3 1957.6,1612.4 1958.1,1612.5 1958.5,1612.5 1959,1612.6 1959.5,1612.7 1960,1612.8 1960.5,1612.8 1961,1612.9 1961.4,1613 1961.9,1613.1 1962.4,1613.2 1962.9,1613.2 1963.4,1613.3 1963.8,1613.4 1964.3,1613.5 1964.8,1613.5 1965.3,1613.6 1965.8,1613.7 1966.3,1613.7 1966.7,1613.8 1967.2,1613.9 1967.7,1613.9 1968.2,1614 1968.7,1614 1969.1,1614.1 1969.6,1614.1 1970.1,1614.2 1970.6,1614.2 1971.1,1614.3 1971.5,1614.3 1972,1614.3 1972.5,1614.4 1973,1614.4 1973.5,1614.4 1974,1614.4 1974.4,1614.4 1974.9,1614.4 1975.4,1525 1975.9,1523.4 1976.4,1522.4 1976.8,1521.9 1977.3,1521.5 1977.8,1521 1978.3,1520.5 1978.8,1519.9 1979.3,1519.4 1979.7,1518.9 1980.2,1518.5 1980.7,1518 1981.2,1517.6 1981.7,1517.2 1982.1,1516.9 1982.6,1516.5 1983.1,1516.2 1983.6,1515.9 1984.1,1515.5 1984.5,1515.2 1985,1515 1985.5,1514.7 1986,1514.4 1986.5,1514.2 1987,1513.9 1987.4,1513.7 1987.9,1513.4 1988.4,1513.2 1988.9,1513 1989.4,1512.8 1989.8,1512.5 1990.3,1512.3 1990.8,1512.1 1991.3,1511.9 1991.8,1511.7 1992.3,1511.5 1992.7,1511.3 1993.2,1511.1 1993.7,1511 1994.2,1510.8 1994.7,1510.6 1995.1,1510.4 1995.6,1510.2 1996.1,1510.1 1996.6,1509.9 1997.1,1509.7 1997.5,1509.6 1998,1509.4 1998.5,1509.2 1999,1509.1 1999.5,1508.9 2000,1508.8 2000.4,1508.6 2000.9,1508.5 2001.4,1508.3 2001.9,1508.2 2002.4,1508 2002.8,1507.9 2003.3,1507.7 2003.8,1507.6 2004.3,1507.5 2004.8,1507.3 2005.3,1507.2 2005.7,1507 2006.2,1506.9 2006.7,1506.8 2007.2,1506.6 2007.7,1506.5 2008.1,1506.4 2008.6,1506.3 2009.1,1506.1 2009.6,1506 2010.1,1505.9 2010.5,1505.8 2011,1505.6 2011.5,1505.5 2012,1505.4 2012.5,1505.3 2013,1505.2 2013.4,1505 2013.9,1504.9 2014.4,1504.8 2014.9,1504.7 2015.4,1504.6 2015.8,1504.5 2016.3,1504.4 2016.8,1504.3 2017.3,1504.2 2017.8,1504.1 2018.3,1504 2018.7,1503.8 2019.2,1503.8 2019.7,1503.7 2020.2,1503.6 2020.7,1503.5 2021.1,1503.4 2021.6,1503.3 2022.1,1503.2 2022.6,1503.1 2023.1,1503 2023.6,1502.9 2024,1502.8 2024.5,1502.8 2025,1502.7 2025.5,1502.6 2026,1502.5 2026.4,1502.4 2026.9,1502.3 2027.4,1502.3 2027.9,1502.2 2028.4,1502.1 2028.8,1502 2029.3,1501.9 2029.8,1501.9 2030.3,1501.8 2030.8,1501.7 2031.3,1501.6 2031.7,1501.6 2032.2,1501.5 2032.7,1501.4 2033.2,1501.3 2033.7,1501.3 2034.1,1501.2 2034.6,1501.1 2035.1,1501.1 2035.6,1501 2036.1,1500.9 2036.6,1500.9 2037,1500.8 2037.5,1500.7 2038,1500.7 2038.5,1500.6 2039,1500.5 2039.4,1500.5 2039.9,1500.4 2040.4,1500.3 2040.9,1500.3 2041.4,1500.2 2041.8,1500.1 2042.3,1500.1 2042.8,1500 2043.3,1500 2043.8,1499.9 2044.3,1499.8 2044.7,1499.8 2045.2,1499.7 2045.7,1499.7 2046.2,1499.6 2046.7,1499.6 2047.1,1499.5 2047.6,1499.5 2048.1,1499.4 2048.6,1499.4 2049.1,1499.3 2049.6,1499.3 2050,1499.2 2050.5,1499.2 2051,1499.1 2051.5,1499.1 2052,1499 2052.4,1499 2052.9,1498.9 2053.4,1498.9 2053.9,1498.8 2054.4,1498.8 2054.8,1498.7 2055.3,1498.7 2055.8,1498.6 2056.3,1498.6 2056.8,1498.6 2057.3,1498.5 2057.7,1498.5 2058.2,1498.4 2058.7,1498.4 2059.2,1498.4 2059.7,1498.3 2060.1,1498.3 2060.6,1498.2 2061.1,1498.2 2061.6,1498.2 2062.1,1498.1 2062.6,1498.1 2063,1498.1 2063.5,1498 2064,1498 2064.5,1497.9 2065,1497.9 2065.4,1497.9 2065.9,1497.8 2066.4,1497.8 2066.9,1497.8 2067.4,1497.7 2067.8,1497.7 2068.3,1497.7 2068.8,1497.6 2069.3,1497.6 2069.8,1497.6 2070.3,1497.5 2070.7,1497.5 2071.2,1497.5 2071.7,1497.4 2072.2,1497.4 2072.7,1497.4 2073.1,1497.3 2073.6,1497.3 2074.1,1497.3 2074.6,1497.3 2075.1,1497.2 2075.6,1497.2 2076,1497.2 2076.5,1497.1 2077,1497.1 2077.5,1497.1 2078,1497 2078.4,1497 2078.9,1497 2079.4,1496.9 2079.9,1496.9 2080.4,1496.9 2080.8,1496.8 2081.3,1496.8 2081.8,1496.8 2082.3,1496.7 2082.8,1496.7 2083.3,1496.7 2083.7,1496.6 2084.2,1496.6 2084.7,1496.6 2085.2,1496.5 2085.7,1496.5 2086.1,1496.5 2086.6,1496.4 2087.1,1496.4 2087.6,1496.4 2088.1,1496.3 2088.6,1496.3 2089,1496.3 2089.5,1496.2 2090,1496.2 2090.5,1496.2 2091,1496.1 2091.4,1496.1 2091.9,1496.1 2092.4,1496 2092.9,1496 2093.4,1495.9 2093.8,1495.9 2094.3,1495.9 2094.8,1495.8 2095.3,1495.8 2095.8,1495.8 2096.3,1495.7 2096.7,1495.7 2097.2,1495.6 2097.7,1495.6 2098.2,1495.6 2098.7,1495.5 2099.1,1495.5 2099.6,1495.4 2100.1,1495.4 2100.6,1495.4 2101.1,1495.3 2101.6,1495.3 2102,1495.2 2102.5,1495.2 2103,1495.2 2103.5,1495.1 2104,1495.1 2104.4,1495 2104.9,1495 2105.4,1495 2105.9,1494.9 2106.4,1494.9 2106.8,1494.8 2107.3,1494.8 2107.8,1494.8 2108.3,1494.7 2108.8,1494.7 2109.3,1494.7 2109.7,1494.6 2110.2,1494.6 2110.7,1494.5 2111.2,1494.5 2111.7,1494.5 2112.1,1494.4 2112.6,1494.4 2113.1,1494.4 2113.6,1494.3 2114.1,1494.3 2114.6,1494.2 2115,1494.2 2115.5,1494.2 2116,1494.1 2116.5,1494.1 2117,1494.1 2117.4,1494 2117.9,1494 2118.4,1494 2118.9,1493.9 2119.4,1493.9 2119.8,1493.9 2120.3,1493.8 2120.8,1493.8 2121.3,1493.8 2121.8,1493.7 2122.3,1493.7 2122.7,1493.7 2123.2,1493.6 2123.7,1493.6 2124.2,1493.5 2124.7,1493.5 2125.1,1493.5 2125.6,1493.4 2126.1,1493.4 2126.6,1493.3 2127.1,1493.3 2127.6,1493.3 2128,1493.2 2128.5,1493.2 2129,1493.2 2129.5,1493.1 2130,1493.1 2130.4,1493.1 2130.9,1493 2131.4,1493 2131.9,1493 2132.4,1492.9 2132.9,1492.9 2133.3,1492.9 2133.8,1492.9 2134.3,1492.8 2134.8,1492.8 2135.3,1492.8 2135.7,1492.8 2136.2,1492.8 2136.7,1492.8 2137.2,1492.7 2137.7,1492.7 2138.1,1492.7 2138.6,1492.7 2139.1,1493.3 2139.6,1518.2 2140.1,1531.2 2140.6,1536.9 2141,1540.4 2141.5,1543.1 2142,1545.3 2142.5,1547.3 2143,1549.1 2143.4,1550.7 2143.9,1552.2 2144.4,1553.6 2144.9,1554.9 2145.4,1556.2 2145.9,1557.3 2146.3,1558.4 2146.8,1559.5 2147.3,1560.6 2147.8,1561.6 2148.3,1562.6 2148.7,1563.6 2149.2,1564.5 2149.7,1565.4 2150.2,1566.2 2150.7,1567.1 2151.1,1567.8 2151.6,1568.6 2152.1,1569.3 2152.6,1569.9 2153.1,1570.6 2153.6,1571.2 2154,1571.8 2154.5,1572.4 2155,1573 2155.5,1573.5 2156,1574.1 2156.4,1574.6 2156.9,1575.1 2157.4,1575.6 2157.9,1576 2158.4,1576.5 2158.9,1576.9 2159.3,1577.4 2159.8,1577.8 2160.3,1578.2 2160.8,1578.7 2161.3,1579.1 2161.7,1579.4 2162.2,1579.8 2162.7,1580.2 2163.2,1580.6 2163.7,1580.9 2164.1,1581.3 2164.6,1581.7 2165.1,1582 2165.6,1582.3 2166.1,1582.6 2166.6,1583 2167,1583.3 2167.5,1583.6 2168,1583.9 2168.5,1584.1 2169,1584.4 2169.4,1584.7 2169.9,1585 2170.4,1585.2 2170.9,1585.5 2171.4,1585.8 2171.9,1586 2172.3,1586.3 2172.8,1586.5 2173.3,1586.7 2173.8,1587 2174.3,1587.2 2174.7,1587.4 2175.2,1587.7 2175.7,1587.9 2176.2,1588.1 2176.7,1588.3 2177.1,1588.5 2177.6,1588.7 2178.1,1588.9 2178.6,1589.1 2179.1,1589.3 2179.6,1589.5 2180,1589.7 2180.5,1589.9 2181,1590.1 2181.5,1590.3 2182,1590.4 2182.4,1590.6 2182.9,1590.8 2183.4,1591 2183.9,1591.1 2184.4,1591.3 2184.9,1591.5 2185.3,1591.6 2185.8,1591.8 2186.3,1592 2186.8,1592.1 2187.3,1592.3 2187.7,1592.4 2188.2,1592.6 2188.7,1592.7 2189.2,1592.9 2189.7,1593 2190.1,1593.2 2190.6,1593.3 2191.1,1593.5 2191.6,1593.6 2192.1,1593.8 2192.6,1593.9 2193,1594.1 2193.5,1594.2 2194,1594.3 2194.5,1594.5 2195,1594.6 2195.4,1594.8 2195.9,1594.9 2196.4,1595 2196.9,1595.2 2197.4,1595.3 2197.9,1595.5 2198.3,1595.6 2198.8,1595.7 2199.3,1595.9 2199.8,1596 2200.3,1596.1 2200.7,1596.3 2201.2,1596.4 2201.7,1596.5 2202.2,1596.7 2202.7,1596.8 2203.1,1596.9 2203.6,1597.1 2204.1,1597.2 2204.6,1597.3 2205.1,1597.4 2205.6,1597.5 2206,1597.7 2206.5,1597.8 2207,1597.9 2207.5,1598 2208,1598.1 2208.4,1598.2 2208.9,1598.3 2209.4,1598.4 2209.9,1598.6 2210.4,1598.7 2210.9,1598.8 2211.3,1598.9 2211.8,1599 2212.3,1599.1 2212.8,1599.2 2213.3,1599.3 2213.7,1599.4 2214.2,1599.5 2214.7,1599.6 2215.2,1599.7 2215.7,1599.8 2216.2,1599.9 2216.6,1600 2217.1,1600.1 2217.6,1600.2 2218.1,1600.3 2218.6,1600.4 2219,1600.5 2219.5,1600.6 2220,1600.7 2220.5,1600.7 2221,1600.8 2221.4,1600.9 2221.9,1601 2222.4,1601.1 2222.9,1601.2 2223.4,1601.3 2223.9,1601.4 2224.3,1601.5 2224.8,1601.5 2225.3,1601.6 2225.8,1601.7 2226.3,1601.8 2226.7,1601.9 2227.2,1602 2227.7,1602.1 2228.2,1602.1 2228.7,1602.2 2229.2,1602.3 2229.6,1602.4 2230.1,1602.5 2230.6,1602.5 2231.1,1602.6 2231.6,1602.7 2232,1602.8 2232.5,1602.8 2233,1602.9 2233.5,1603 2234,1603.1 2234.4,1603.2 2234.9,1603.2 2235.4,1603.3 2235.9,1603.4 2236.4,1603.4 2236.9,1603.5 2237.3,1603.6 2237.8,1603.7 2238.3,1603.7 2238.8,1603.8 2239.3,1603.9 2239.7,1603.9 2240.2,1604 2240.7,1604.1 2241.2,1604.2 2241.7,1604.2 2242.2,1604.3 2242.6,1604.4 2243.1,1604.4 2243.6,1604.5 2244.1,1604.6 2244.6,1604.6 2245,1604.7 2245.5,1604.8 2246,1604.8 2246.5,1604.9 2247,1605 2247.4,1605 2247.9,1605.1 2248.4,1605.2 2248.9,1605.2 2249.4,1605.3 2249.9,1605.3 2250.3,1605.4 2250.8,1605.5 2251.3,1605.5 2251.8,1605.6 2252.3,1605.7 2252.7,1605.7 2253.2,1605.8 2253.7,1605.9 2254.2,1605.9 2254.7,1606 2255.2,1606 2255.6,1606.1 2256.1,1606.2 2256.6,1606.2 2257.1,1606.3 2257.6,1606.3 2258,1606.4 2258.5,1606.5 2259,1606.5 2259.5,1606.6 2260,1606.6 2260.4,1606.7 2260.9,1606.8 2261.4,1606.8 2261.9,1606.9 2262.4,1606.9 2262.9,1607 2263.3,1607.1 2263.8,1607.1 2264.3,1607.2 2264.8,1607.2 2265.3,1607.3 2265.7,1607.4 2266.2,1607.4 2266.7,1607.5 2267.2,1607.5 2267.7,1607.6 2268.2,1607.7 2268.6,1607.7 2269.1,1607.8 2269.6,1607.8 2270.1,1607.9 2270.6,1608 2271,1608 2271.5,1608.1 2272,1608.1 2272.5,1608.2 2273,1608.2 2273.4,1608.3 2273.9,1608.4 2274.4,1608.4 2274.9,1608.5 2275.4,1608.5 2275.9,1608.6 2276.3,1608.6 2276.8,1608.7 2277.3,1608.8 2277.8,1608.8 2278.3,1608.9 2278.7,1608.9 2279.2,1609 2279.7,1609 2280.2,1609.1 2280.7,1609.1 2281.2,1609.2 2281.6,1609.2 2282.1,1609.3 2282.6,1609.4 2283.1,1609.4 2283.6,1609.5 2284,1609.5 2284.5,1609.6 2285,1609.6 2285.5,1609.7 2286,1609.7 2286.4,1609.8 2286.9,1609.8 2287.4,1609.9 2287.9,1609.9 2288.4,1610 2288.9,1610 2289.3,1610.1 2289.8,1610.1 2290.3,1610.2 2290.8,1610.2 2291.3,1610.3 2291.7,1610.3 2292.2,1610.4 2292.7,1610.4 2293.2,1610.5 2293.7,1610.5 2294.2,1610.6 2294.6,1610.6 2295.1,1610.6 2295.6,1610.7 2296.1,1610.7 2296.6,1610.8 2297,1610.8 2297.5,1610.9 2298,1610.9 2298.5,1611 2299,1611 2299.4,1611.1 2299.9,1611.1 2300.4,1611.1 2300.9,1611.2 2301.4,1611.2 2301.9,1611.3 2302.3,1611.3 2302.8,1611.4 2303.3,1611.4 2303.8,1611.4 2304.3,1611.5 2304.7,1611.5 2305.2,1611.6 2305.7,1611.6 2306.2,1611.7 2306.7,1611.7 2307.2,1611.7 2307.6,1611.8 2308.1,1611.8 2308.6,1611.9 2309.1,1611.9 2309.6,1611.9 2310,1612 2310.5,1612 2311,1612.1 2311.5,1612.1 2312,1612.1 2312.5,1612.2 2312.9,1612.2 2313.4,1612.3 2313.9,1612.3 2314.4,1612.3 2314.9,1612.4 2315.3,1612.4 2315.8,1612.5 2316.3,1612.5 2316.8,1612.5 2317.3,1612.6 2317.7,1612.6 2318.2,1612.7 2318.7,1612.7 2319.2,1612.7 2319.7,1612.8 2320.2,1612.8 2320.6,1612.8 2321.1,1612.9 2321.6,1612.9 2322.1,1613 2322.6,1613 2323,1613 2323.5,1613.1 2324,1613.1 2324.5,1613.1 2325,1613.2 2325.5,1613.2 2325.9,1613.2 2326.4,1613.3 2326.9,1613.3 2327.4,1613.4 2327.9,1613.4 2328.3,1613.4 2328.8,1613.5 2329.3,1613.5 2329.8,1613.5 2330.3,1613.6 2330.7,1613.6 2331.2,1613.6 2331.7,1613.7 2332.2,1613.7 2332.7,1613.7 2333.2,1613.8 2333.6,1613.8 2334.1,1613.9 2334.6,1613.9 2335.1,1613.9 2335.6,1614 2336,1614 2336.5,1614 2337,1614.1 2337.5,1614.1 2338,1614.1 2338.5,1614.2 2338.9,1614.2 2339.4,1614.2 2339.9,1614.3 2340.4,1614.3 2340.9,1614.3 2341.3,1614.4 2341.8,1614.4 2342.3,1614.4 2342.8,1614.5 2343.3,1614.5 2343.7,1614.5 2344.2,1614.6 2344.7,1614.6 2345.2,1614.6 2345.7,1614.7 2346.2,1614.7 2346.6,1614.7 2347.1,1614.7 2347.6,1614.8 2348.1,1614.8 2348.6,1614.8 2349,1614.9 2349.5,1614.9 2350,1614.9 2350.5,1615 2351,1615" fill="none" stroke="#000" stroke-width="3.5" stroke-linejoin="round" marker-start="url(#mk)" marker-mid="url(#mk)" marker-end="url(#mk)"/></g>
<circle cx="2137.2" cy="1493.3" r="6.3" fill="url(#gk)"/>
<circle cx="2139.1" cy="1518.2" r="6.3" fill="url(#gk)"/>
<circle cx="1973.5" cy="1614.4" r="6.3" fill="url(#gk)"/>
<circle cx="2351" cy="1615" r="6.3" fill="url(#gk)"/>
<circle cx="2140.1" cy="1532.9" r="6.3" fill="url(#gk)"/>
<rect x="1929.5" y="1047" width="425.7" height="700.1" fill="none" stroke="#000" stroke-width="7"/>
<path d="M1929.5,1719.7h-12.5M1929.5,1663.1h-6M1929.5,1606.5h-12.5M1929.5,1549.9h-6M1929.5,1493.3h-12.5M1929.5,1436.7h-6M1929.5,1380.1h-12.5M1929.5,1323.5h-6M1929.5,1266.9h-12.5M1929.5,1210.3h-6M1929.5,1153.7h-12.5M1929.5,1097.1h-6M1975.4,1747.1v12.5M2071.7,1747.1v12.5M2168,1747.1v12.5M2264.3,1747.1v12.5M1927.2,1747.1v6M2023.6,1747.1v6M2119.8,1747.1v6M2216.2,1747.1v6M2312.5,1747.1v6" stroke="#000" stroke-width="7" stroke-linecap="round" fill="none"/>
<rect x="1964.2" y="1028" width="188.8" height="37.7" fill="#ff0000"/>
<rect x="2159.1" y="1028" width="188.8" height="37.7" fill="#0d0d0d"/>
<text x="1906" y="1735.7" font-size="53" text-anchor="end" font-weight="normal" font-style="normal" fill="#000" >0</text>
<text x="1906" y="1622.5" font-size="53" text-anchor="end" font-weight="normal" font-style="normal" fill="#000" >20</text>
<text x="1906" y="1509.3" font-size="53" text-anchor="end" font-weight="normal" font-style="normal" fill="#000" >40</text>
<text x="1906" y="1396.1" font-size="53" text-anchor="end" font-weight="normal" font-style="normal" fill="#000" >60</text>
<text x="1906" y="1282.9" font-size="53" text-anchor="end" font-weight="normal" font-style="normal" fill="#000" >80</text>
<text x="1906" y="1169.7" font-size="53" text-anchor="end" font-weight="normal" font-style="normal" fill="#000" >100</text>
<text x="1975.4" y="1812.5" font-size="53" text-anchor="middle" font-weight="normal" font-style="normal" fill="#000" >24</text>
<text x="2071.7" y="1812.5" font-size="53" text-anchor="middle" font-weight="normal" font-style="normal" fill="#000" >26</text>
<text x="2168" y="1812.5" font-size="53" text-anchor="middle" font-weight="normal" font-style="normal" fill="#000" >28</text>
<text x="2264.3" y="1812.5" font-size="53" text-anchor="middle" font-weight="normal" font-style="normal" fill="#000" >30</text>
<line x1="2164" y1="1102.1" x2="2235.5" y2="1102.1" stroke="#000" stroke-width="4.2" stroke-linecap="round"/>
<circle cx="2199.1" cy="1102.1" r="6.8" fill="url(#gk)"/>
<text x="2245.2" y="1113.3" font-size="51.5" text-anchor="start" font-weight="bold" font-style="normal" fill="#000" >MI</text>
<text x="1978.2" y="1388.7" font-size="52.2" text-anchor="start" font-weight="bold" font-style="normal" fill="#000" >0.71 s</text>
<text x="2201.9" y="1413.4" font-size="52.2" text-anchor="start" font-weight="bold" font-style="normal" fill="#000" >1.84 s</text>
<polygon points="2023.7,1405 2023.7,1471 2018.9,1471 2024.9,1493 2030.9,1471 2026.1,1471 2026.1,1405" fill="#000" />
<polygon points="2258,1435 2258,1576 2253.2,1576 2259.2,1598 2265.2,1576 2260.4,1576 2260.4,1435" fill="#000" />
</g>
</svg>
</body></html>
